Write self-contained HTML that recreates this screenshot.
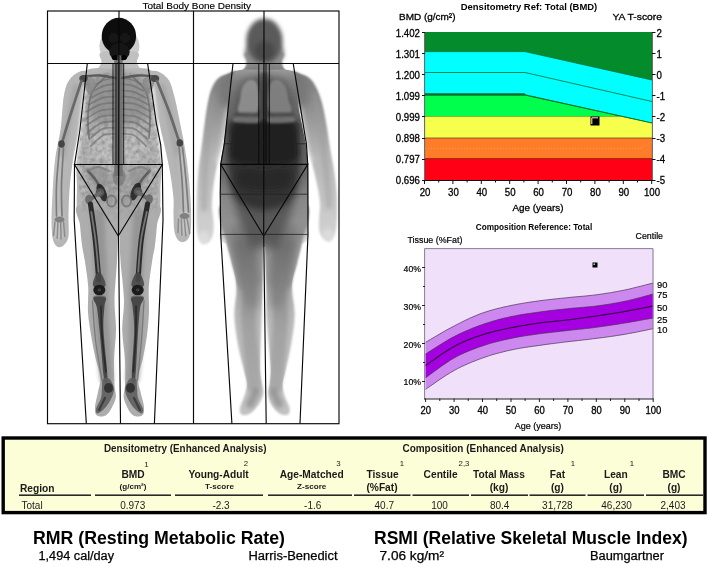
<!DOCTYPE html>
<html><head><meta charset="utf-8"><title>Total Body Bone Density</title>
<style>
html,body{margin:0;padding:0;background:#fff;}
body{width:709px;height:567px;position:relative;overflow:hidden;font-family:"Liberation Sans",sans-serif;color:#000;}
#main{position:absolute;left:0;top:0;}
.t{position:absolute;white-space:nowrap;line-height:1;}
svg text{font-family:"Liberation Sans",sans-serif;}
</style></head><body>
<svg id="main" width="709" height="567" viewBox="0 0 709 567">
<defs>
<filter id="b1" x="-20%" y="-20%" width="140%" height="140%"><feGaussianBlur stdDeviation="1"/></filter>
<filter id="b2" x="-20%" y="-20%" width="140%" height="140%"><feGaussianBlur stdDeviation="2"/></filter>
<filter id="b3" x="-20%" y="-20%" width="140%" height="140%"><feGaussianBlur stdDeviation="3.5"/></filter>
<filter id="b5" x="-30%" y="-30%" width="160%" height="160%"><feGaussianBlur stdDeviation="6"/></filter>
<filter id="b07" x="-20%" y="-20%" width="140%" height="140%"><feGaussianBlur stdDeviation="0.75"/></filter>
<filter id="b4" x="-30%" y="-30%" width="160%" height="160%"><feGaussianBlur stdDeviation="5"/></filter>
<filter id="noise" x="0" y="0" width="100%" height="100%"><feTurbulence type="fractalNoise" baseFrequency="0.22" numOctaves="2" seed="4" result="t"/><feColorMatrix type="matrix" values="0 0 0 0 0.25  0 0 0 0 0.25  0 0 0 0 0.25  2.2 0 0 0 -0.85"/><feGaussianBlur stdDeviation="0.5"/></filter>
<filter id="noiseW" x="0" y="0" width="100%" height="100%"><feTurbulence type="fractalNoise" baseFrequency="0.25" numOctaves="2" seed="9"/><feColorMatrix type="matrix" values="0 0 0 0 0.85  0 0 0 0 0.85  0 0 0 0 0.85  0 2.2 0 0 -0.9"/><feGaussianBlur stdDeviation="0.5"/></filter>
<filter id="b05" x="-20%" y="-20%" width="140%" height="140%"><feGaussianBlur stdDeviation="0.6"/></filter>
</defs>
<g id="scans">
<text x="196.800" y="8.500" font-size="9.5" text-anchor="middle" fill="#000" stroke="#000" stroke-width="0.15" textLength="108.500" lengthAdjust="spacingAndGlyphs">Total Body Bone Density</text>
<linearGradient id="lgR1" gradientUnits="userSpaceOnUse" x1="0" y1="205" x2="0" y2="415"><stop offset="0" stop-color="#8a8a8a"/><stop offset="0.2" stop-color="#a0a0a0"/><stop offset="0.4" stop-color="#b0b0b0"/><stop offset="0.6" stop-color="#bcbcbc"/><stop offset="1" stop-color="#c2c2c2"/></linearGradient>
<linearGradient id="lgR2" gradientUnits="userSpaceOnUse" x1="0" y1="205" x2="0" y2="415"><stop offset="0" stop-color="#585858"/><stop offset="0.2" stop-color="#787878"/><stop offset="0.4" stop-color="#909090"/><stop offset="0.6" stop-color="#a0a0a0"/><stop offset="0.85" stop-color="#a6a6a6"/><stop offset="1" stop-color="#9c9c9c"/></linearGradient>
<linearGradient id="lgA" gradientUnits="userSpaceOnUse" x1="0" y1="70" x2="0" y2="245"><stop offset="0" stop-color="#7e7e7e"/><stop offset="0.17" stop-color="#8a8a8a"/><stop offset="0.34" stop-color="#a2a2a2"/><stop offset="0.5" stop-color="#b8b8b8"/><stop offset="0.75" stop-color="#c6c6c6"/><stop offset="1" stop-color="#d4d4d4"/></linearGradient>
<clipPath id="clipL"><rect x="48" y="11" width="145" height="412.500"/></clipPath>
<clipPath id="clipR"><rect x="193.5" y="11" width="145.500" height="412.500"/></clipPath>
<g clip-path="url(#clipL)">
<g filter="url(#b07)">
<ellipse cx="119.4" cy="46" rx="20" ry="18.5" fill="#cbcbcb"/>
<path d="M102.0 52.0 C96.2 53.7 102.2 59.3 101.5 62.0 C100.8 64.7 99.9 66.3 98.0 68.0 C96.1 69.7 86.5 70.3 90.0 72.0 C93.5 73.7 109.3 78.0 119.0 78.0 C128.7 78.0 144.5 73.7 148.0 72.0 C151.5 70.3 141.8 69.7 140.0 68.0 C138.2 66.3 137.6 64.7 137.0 62.0 C136.4 59.3 142.3 53.7 136.5 52.0 C130.7 50.3 107.8 50.3 102.0 52.0Z" fill="#c0c0c0"/>
<path d="M82.0 71.0 C78.3 71.5 73.0 75.0 70.0 79.0 C67.0 83.0 65.6 86.5 64.0 95.0 C62.4 103.5 62.0 119.2 60.5 130.0 C59.0 140.8 56.3 149.2 55.0 160.0 C53.7 170.8 53.1 184.7 52.5 195.0 C51.9 205.3 51.4 214.5 51.5 222.0 C51.6 229.5 51.9 235.8 53.0 240.0 C54.1 244.2 56.2 246.2 58.0 247.0 C59.8 247.8 62.2 246.8 64.0 245.0 C65.8 243.2 67.8 241.0 68.5 236.0 C69.2 231.0 68.3 222.7 68.5 215.0 C68.7 207.3 68.8 199.2 69.5 190.0 C70.2 180.8 71.4 170.0 73.0 160.0 C74.6 150.0 77.2 140.0 79.0 130.0 C80.8 120.0 81.8 109.0 84.0 100.0 C86.2 91.0 92.3 80.8 92.0 76.0 C91.7 71.2 85.7 70.5 82.0 71.0Z" fill="#b6b6b6"/>
<path d="M156.0 71.0 C159.7 71.5 165.0 75.0 168.0 79.0 C171.0 83.0 171.9 87.3 174.0 95.0 C176.1 102.7 178.5 115.0 180.5 125.0 C182.5 135.0 184.5 145.0 186.0 155.0 C187.5 165.0 188.7 175.8 189.5 185.0 C190.3 194.2 190.8 202.2 191.0 210.0 C191.2 217.8 191.3 226.8 190.5 232.0 C189.7 237.2 187.9 239.5 186.0 241.0 C184.1 242.5 180.9 242.5 179.0 241.0 C177.1 239.5 175.4 236.3 174.5 232.0 C173.6 227.7 173.7 220.7 173.5 215.0 C173.3 209.3 174.1 205.2 173.5 198.0 C172.9 190.8 171.4 180.3 170.0 172.0 C168.6 163.7 166.8 156.3 165.0 148.0 C163.2 139.7 160.8 130.0 159.0 122.0 C157.2 114.0 156.2 107.7 154.0 100.0 C151.8 92.3 145.7 80.8 146.0 76.0 C146.3 71.2 152.3 70.5 156.0 71.0Z" fill="#b6b6b6"/>
<path d="M86.0 71.0 C79.7 76.2 82.1 90.2 81.0 100.0 C79.9 109.8 80.2 120.0 79.5 130.0 C78.8 140.0 76.9 150.8 76.5 160.0 C76.1 169.2 76.6 175.8 77.0 185.0 C77.4 194.2 75.2 208.8 79.0 215.0 C82.8 221.2 93.3 220.5 100.0 222.0 C106.7 223.5 112.7 224.0 119.0 224.0 C125.3 224.0 131.5 223.5 138.0 222.0 C144.5 220.5 154.2 221.2 158.0 215.0 C161.8 208.8 159.9 194.2 160.5 185.0 C161.1 175.8 161.8 169.2 161.5 160.0 C161.2 150.8 159.8 140.0 159.0 130.0 C158.2 120.0 158.2 109.8 157.0 100.0 C155.8 90.2 158.3 76.2 152.0 71.0 C145.7 65.8 130.0 69.0 119.0 69.0 C108.0 69.0 92.3 65.8 86.0 71.0Z" fill="#b6b6b6"/>
<path d="M78.5 205.0 C72.1 208.3 79.4 218.3 80.0 225.0 C80.6 231.7 81.2 238.8 82.0 245.0 C82.8 251.2 84.0 255.0 85.0 262.0 C86.0 269.0 87.7 278.7 88.2 287.0 C88.7 295.3 87.5 304.0 88.0 312.0 C88.5 320.0 89.8 327.3 91.0 335.0 C92.2 342.7 94.0 350.8 95.5 358.0 C97.0 365.2 99.9 372.3 100.3 378.0 C100.7 383.7 98.9 387.2 98.0 392.0 C97.1 396.8 95.2 403.1 95.0 407.0 C94.8 410.9 95.0 414.2 97.0 415.5 C99.0 416.8 103.9 417.2 107.0 414.5 C110.1 411.8 114.2 403.9 115.5 399.0 C116.8 394.1 114.8 391.5 114.5 385.0 C114.2 378.5 113.8 369.2 114.0 360.0 C114.2 350.8 115.9 340.0 116.0 330.0 C116.1 320.0 114.3 311.3 114.5 300.0 C114.7 288.7 116.4 272.3 117.0 262.0 C117.6 251.7 117.8 247.5 118.0 238.0 C118.2 228.5 124.9 210.5 118.3 205.0 C111.7 199.5 84.9 201.7 78.5 205.0Z" fill="#adadad"/>
<path d="M158.5 205.0 C164.7 208.3 157.6 218.3 157.0 225.0 C156.4 231.7 155.8 238.8 155.0 245.0 C154.2 251.2 153.0 255.0 152.0 262.0 C151.0 269.0 149.3 278.7 148.8 287.0 C148.3 295.3 149.3 304.0 149.0 312.0 C148.7 320.0 148.0 327.3 147.0 335.0 C146.0 342.7 144.5 350.8 143.0 358.0 C141.5 365.2 138.4 372.3 138.0 378.0 C137.6 383.7 139.5 387.2 140.5 392.0 C141.5 396.8 143.8 403.1 144.0 407.0 C144.2 410.9 144.0 414.2 142.0 415.5 C140.0 416.8 135.0 417.2 132.0 414.5 C129.0 411.8 125.2 403.9 124.0 399.0 C122.8 394.1 124.8 391.5 125.0 385.0 C125.2 378.5 125.5 369.2 125.0 360.0 C124.5 350.8 122.4 340.0 122.2 330.0 C122.0 320.0 124.3 311.3 124.0 300.0 C123.7 288.7 121.3 272.3 120.6 262.0 C119.9 251.7 119.9 247.5 119.7 238.0 C119.5 228.5 113.1 210.5 119.6 205.0 C126.1 199.5 152.3 201.7 158.5 205.0Z" fill="#adadad"/>
</g>
<g filter="url(#b2)">
<path d="M92.0 78.0 C86.8 83.8 89.2 98.8 88.0 110.0 C86.8 121.2 85.8 134.2 85.0 145.0 C84.2 155.8 83.0 165.0 83.0 175.0 C83.0 185.0 82.2 198.2 85.0 205.0 C87.8 211.8 94.3 213.8 100.0 216.0 C105.7 218.2 112.7 218.0 119.0 218.0 C125.3 218.0 132.3 218.2 138.0 216.0 C143.7 213.8 150.2 211.8 153.0 205.0 C155.8 198.2 155.0 185.0 155.0 175.0 C155.0 165.0 153.8 155.8 153.0 145.0 C152.2 134.2 151.2 121.2 150.0 110.0 C148.8 98.8 151.2 83.8 146.0 78.0 C140.8 72.2 128.0 75.0 119.0 75.0 C110.0 75.0 97.2 72.2 92.0 78.0Z" fill="#a9a9a9" opacity="0.9"/>
<path d="M98.0 215.0 C98.2 220.8 99.0 238.3 99.5 250.0 C100.0 261.7 100.6 273.3 101.0 285.0 C101.4 296.7 101.4 308.3 102.0 320.0 C102.6 331.7 103.8 345.3 104.5 355.0 C105.2 364.7 106.2 374.2 106.5 378.0" fill="none" stroke="#919191" stroke-width="13" stroke-linecap="round" stroke-linejoin="round" opacity="0.85"/>
<path d="M139.5 215.0 C139.2 220.8 138.7 238.3 138.0 250.0 C137.3 261.7 135.9 273.3 135.5 285.0 C135.1 296.7 135.7 308.3 135.5 320.0 C135.3 331.7 135.0 345.3 134.5 355.0 C134.0 364.7 132.8 374.2 132.5 378.0" fill="none" stroke="#919191" stroke-width="13" stroke-linecap="round" stroke-linejoin="round" opacity="0.85"/>
<path d="M76.0 86.0 C74.7 92.5 70.4 111.8 68.0 125.0 C65.6 138.2 62.9 150.8 61.5 165.0 C60.1 179.2 59.8 202.5 59.5 210.0" fill="none" stroke="#a0a0a0" stroke-width="5.5" stroke-linecap="round" stroke-linejoin="round" opacity="0.8"/>
<path d="M162.0 86.0 C163.5 92.5 168.2 111.8 171.0 125.0 C173.8 138.2 177.0 151.2 179.0 165.0 C181.0 178.8 182.3 200.8 183.0 208.0" fill="none" stroke="#a0a0a0" stroke-width="5.5" stroke-linecap="round" stroke-linejoin="round" opacity="0.8"/>
</g>
<g filter="url(#b1)">
<path d="M85.0 88.0 C84.5 92.0 83.0 103.7 82.0 112.0 C81.0 120.3 80.1 130.0 79.0 138.0 C77.9 146.0 76.1 156.3 75.5 160.0" fill="none" stroke="#fff" stroke-width="4" stroke-linecap="round" stroke-linejoin="round" opacity="0.6"/>
<path d="M152.5 88.0 C153.0 92.0 154.5 103.7 155.5 112.0 C156.5 120.3 157.4 130.0 158.5 138.0 C159.6 146.0 161.4 156.3 162.0 160.0" fill="none" stroke="#fff" stroke-width="4" stroke-linecap="round" stroke-linejoin="round" opacity="0.6"/>
</g>
<g filter="url(#b2)">
<path d="M60.0 160.0 C59.7 166.7 58.3 187.5 58.0 200.0 C57.7 212.5 58.0 229.2 58.0 235.0" fill="none" stroke="#fff" stroke-width="9" stroke-linecap="round" stroke-linejoin="round" opacity="0.22"/>
<path d="M181.0 158.0 C181.5 164.2 183.3 183.0 184.0 195.0 C184.7 207.0 184.8 224.2 185.0 230.0" fill="none" stroke="#fff" stroke-width="9" stroke-linecap="round" stroke-linejoin="round" opacity="0.22"/>
</g>
<g filter="url(#b3)">
<ellipse cx="119" cy="104" rx="29" ry="31" fill="#868686" opacity="0.6"/>
<ellipse cx="119" cy="190" rx="28" ry="15" fill="#8a8a8a" opacity="0.35"/>
<ellipse cx="119" cy="146" rx="30" ry="22" fill="#cacaca" opacity="0.5"/>
</g>
<clipPath id="clipTorsoL"><path d="M90.0 76.0 C84.2 80.5 85.5 91.0 84.0 100.0 C82.5 109.0 82.0 120.0 81.0 130.0 C80.0 140.0 78.3 150.8 78.0 160.0 C77.7 169.2 78.3 176.3 79.0 185.0 C79.7 193.7 78.5 206.2 82.0 212.0 C85.5 217.8 93.8 218.3 100.0 220.0 C106.2 221.7 112.7 222.0 119.0 222.0 C125.3 222.0 131.8 221.7 138.0 220.0 C144.2 218.3 152.5 217.8 156.0 212.0 C159.5 206.2 158.3 193.7 159.0 185.0 C159.7 176.3 160.3 169.2 160.0 160.0 C159.7 150.8 158.0 140.0 157.0 130.0 C156.0 120.0 155.5 109.0 154.0 100.0 C152.5 91.0 153.8 80.5 148.0 76.0 C142.2 71.5 128.7 73.0 119.0 73.0 C109.3 73.0 95.8 71.5 90.0 76.0Z"/></clipPath>
<linearGradient id="lgNz" gradientUnits="userSpaceOnUse" x1="0" y1="70" x2="0" y2="225"><stop offset="0" stop-color="#fff"/><stop offset="0.78" stop-color="#fff"/><stop offset="1" stop-color="#000"/></linearGradient><mask id="mNz" maskUnits="userSpaceOnUse" x="70" y="70" width="100" height="160"><rect x="70" y="70" width="100" height="160" fill="url(#lgNz)"/></mask>
<g clip-path="url(#clipTorsoL)"><g mask="url(#mNz)"><rect x="70" y="70" width="100" height="160" filter="url(#noise)" opacity="0.8"/><rect x="70" y="115" width="100" height="110" filter="url(#noiseW)" opacity="0.28"/></g></g>
<g filter="url(#b05)">
<ellipse cx="118.9" cy="36" rx="17.2" ry="18.2" fill="#101010"/>
<ellipse cx="119.5" cy="52" rx="10.2" ry="8.8" fill="#181818"/>
<ellipse cx="113.5" cy="38" rx="4.5" ry="5" fill="#303030" opacity="0.25"/>
<ellipse cx="125" cy="38" rx="4.5" ry="5" fill="#303030" opacity="0.25"/>
<ellipse cx="114.8" cy="57.5" rx="3" ry="2.6" fill="#000"/>
<ellipse cx="123.8" cy="57.5" rx="3" ry="2.6" fill="#000"/>
<ellipse cx="119.5" cy="58" rx="2" ry="3" fill="#888" opacity="0.7"/>
<path d="M118.5 60.0 C118.5 68.3 118.5 90.7 118.5 110.0 C118.5 129.3 118.5 165.0 118.5 176.0" fill="none" stroke="#747474" stroke-width="8.5" stroke-linecap="butt" stroke-linejoin="round"/>
<path d="M118.5 62.0 C118.5 81.0 118.5 157.0 118.5 176.0" fill="none" stroke="#444" stroke-width="3" stroke-linecap="butt" stroke-linejoin="round" opacity="0.4"/>
<path d="M115.0 78.0 C113.5 78.2 109.1 78.5 105.9 79.5 C102.7 80.5 97.7 83.2 96.0 84.0" fill="none" stroke="#6a6a6a" stroke-width="1.8" stroke-linecap="round" stroke-linejoin="round" opacity="0.6"/>
<path d="M122.0 78.0 C123.5 78.2 127.9 78.5 131.1 79.5 C134.3 80.5 139.3 83.2 141.0 84.0" fill="none" stroke="#6a6a6a" stroke-width="1.8" stroke-linecap="round" stroke-linejoin="round" opacity="0.6"/>
<path d="M115.0 84.2 C113.3 84.5 108.1 84.6 104.6 85.7 C101.0 86.8 95.4 90.0 93.6 90.9" fill="none" stroke="#6a6a6a" stroke-width="1.8" stroke-linecap="round" stroke-linejoin="round" opacity="0.6"/>
<path d="M122.0 84.2 C123.7 84.5 128.9 84.6 132.4 85.7 C136.0 86.8 141.6 90.0 143.4 90.9" fill="none" stroke="#6a6a6a" stroke-width="1.8" stroke-linecap="round" stroke-linejoin="round" opacity="0.6"/>
<path d="M115.0 90.4 C113.0 90.7 107.2 90.7 103.3 91.9 C99.3 93.1 93.2 96.8 91.2 97.8" fill="none" stroke="#6a6a6a" stroke-width="1.8" stroke-linecap="round" stroke-linejoin="round" opacity="0.6"/>
<path d="M122.0 90.4 C124.0 90.7 129.8 90.7 133.7 91.9 C137.7 93.1 143.8 96.8 145.8 97.8" fill="none" stroke="#6a6a6a" stroke-width="1.8" stroke-linecap="round" stroke-linejoin="round" opacity="0.6"/>
<path d="M115.0 96.6 C112.8 96.8 106.3 96.8 101.9 98.1 C97.6 99.4 91.0 103.6 88.8 104.7" fill="none" stroke="#6a6a6a" stroke-width="1.8" stroke-linecap="round" stroke-linejoin="round" opacity="0.6"/>
<path d="M122.0 96.6 C124.2 96.8 130.7 96.8 135.1 98.1 C139.4 99.4 146.0 103.6 148.2 104.7" fill="none" stroke="#6a6a6a" stroke-width="1.8" stroke-linecap="round" stroke-linejoin="round" opacity="0.6"/>
<path d="M115.0 102.8 C112.6 103.0 105.4 102.8 100.6 104.3 C95.9 105.8 88.8 110.4 86.4 111.6" fill="none" stroke="#6a6a6a" stroke-width="1.8" stroke-linecap="round" stroke-linejoin="round" opacity="0.6"/>
<path d="M122.0 102.8 C124.4 103.0 131.6 102.8 136.4 104.3 C141.1 105.8 148.2 110.4 150.6 111.6" fill="none" stroke="#6a6a6a" stroke-width="1.8" stroke-linecap="round" stroke-linejoin="round" opacity="0.6"/>
<path d="M115.0 109.0 C112.6 109.2 105.4 108.9 100.6 110.5 C95.9 112.1 88.8 117.2 86.4 118.5" fill="none" stroke="#6a6a6a" stroke-width="1.8" stroke-linecap="round" stroke-linejoin="round" opacity="0.6"/>
<path d="M122.0 109.0 C124.4 109.2 131.6 108.9 136.4 110.5 C141.1 112.1 148.2 117.2 150.6 118.5" fill="none" stroke="#6a6a6a" stroke-width="1.8" stroke-linecap="round" stroke-linejoin="round" opacity="0.6"/>
<path d="M115.0 115.2 C112.6 115.5 105.4 115.0 100.6 116.7 C95.9 118.4 88.8 124.0 86.4 125.4" fill="none" stroke="#6a6a6a" stroke-width="1.8" stroke-linecap="round" stroke-linejoin="round" opacity="0.6"/>
<path d="M122.0 115.2 C124.4 115.5 131.6 115.0 136.4 116.7 C141.1 118.4 148.2 124.0 150.6 125.4" fill="none" stroke="#6a6a6a" stroke-width="1.8" stroke-linecap="round" stroke-linejoin="round" opacity="0.6"/>
<path d="M115.0 121.4 C112.7 121.7 106.0 121.1 101.4 122.9 C96.9 124.7 90.2 130.7 87.9 132.3" fill="none" stroke="#6a6a6a" stroke-width="1.8" stroke-linecap="round" stroke-linejoin="round" opacity="0.6"/>
<path d="M122.0 121.4 C124.3 121.7 131.0 121.1 135.6 122.9 C140.1 124.7 146.8 130.7 149.1 132.3" fill="none" stroke="#6a6a6a" stroke-width="1.8" stroke-linecap="round" stroke-linejoin="round" opacity="0.6"/>
<path d="M115.0 127.6 C112.9 127.8 106.5 127.2 102.3 129.1 C98.0 131.0 91.5 137.5 89.4 139.2" fill="none" stroke="#6a6a6a" stroke-width="1.8" stroke-linecap="round" stroke-linejoin="round" opacity="0.6"/>
<path d="M122.0 127.6 C124.1 127.8 130.5 127.2 134.7 129.1 C139.0 131.0 145.5 137.5 147.6 139.2" fill="none" stroke="#6a6a6a" stroke-width="1.8" stroke-linecap="round" stroke-linejoin="round" opacity="0.6"/>
<path d="M115.0 133.8 C113.0 134.1 107.1 133.2 103.1 135.3 C99.1 137.4 92.9 144.3 90.9 146.1" fill="none" stroke="#6a6a6a" stroke-width="1.8" stroke-linecap="round" stroke-linejoin="round" opacity="0.6"/>
<path d="M122.0 133.8 C124.0 134.1 129.9 133.2 133.9 135.3 C137.9 137.4 144.1 144.3 146.1 146.1" fill="none" stroke="#6a6a6a" stroke-width="1.8" stroke-linecap="round" stroke-linejoin="round" opacity="0.6"/>
<path d="M106.0 76.0 C103.7 78.7 95.0 85.5 92.0 92.0 C89.0 98.5 88.5 107.3 88.0 115.0 C87.5 122.7 88.8 134.2 89.0 138.0" fill="none" stroke="#6a6a6a" stroke-width="1.8" stroke-linecap="round" stroke-linejoin="round" opacity="0.75"/>
<path d="M132.0 76.0 C134.3 78.7 143.0 85.5 146.0 92.0 C149.0 98.5 149.5 107.3 150.0 115.0 C150.5 122.7 149.2 134.2 149.0 138.0" fill="none" stroke="#6a6a6a" stroke-width="1.8" stroke-linecap="round" stroke-linejoin="round" opacity="0.75"/>
<path d="M116.0 78.0 C113.3 77.6 105.5 75.8 100.0 75.5 C94.5 75.2 85.8 76.3 83.0 76.5" fill="none" stroke="#5a5a5a" stroke-width="2.3" stroke-linecap="round" stroke-linejoin="round"/>
<path d="M122.0 78.0 C124.7 77.6 132.5 75.8 138.0 75.5 C143.5 75.2 152.2 76.3 155.0 76.5" fill="none" stroke="#5a5a5a" stroke-width="2.3" stroke-linecap="round" stroke-linejoin="round"/>
<path d="M84.0 77.0 C85.5 75.3 93.7 77.0 95.0 80.0 C96.3 83.0 93.5 93.3 92.0 95.0 C90.5 96.7 87.3 93.0 86.0 90.0 C84.7 87.0 82.5 78.7 84.0 77.0Z" fill="#808080" opacity="0.6"/>
<path d="M154.0 77.0 C152.5 75.3 144.3 77.0 143.0 80.0 C141.7 83.0 144.5 93.3 146.0 95.0 C147.5 96.7 150.7 93.0 152.0 90.0 C153.3 87.0 155.5 78.7 154.0 77.0Z" fill="#808080" opacity="0.6"/>
<ellipse cx="83.5" cy="78.5" rx="4.2" ry="3.6" fill="#4a4a4a"/>
<ellipse cx="155" cy="78.5" rx="4.2" ry="3.6" fill="#4a4a4a"/>
<path d="M81.5 81.0 C79.9 85.8 75.2 100.0 72.0 110.0 C68.8 120.0 64.1 135.8 62.5 141.0" fill="none" stroke="#686868" stroke-width="2.7" stroke-linecap="round" stroke-linejoin="round"/>
<path d="M157.0 81.0 C158.9 85.8 164.8 100.0 168.5 110.0 C172.2 120.0 177.2 135.8 179.0 141.0" fill="none" stroke="#686868" stroke-width="2.7" stroke-linecap="round" stroke-linejoin="round"/>
<ellipse cx="61.5" cy="144" rx="3.3" ry="3.8" fill="#444"/>
<ellipse cx="179.8" cy="143" rx="3.3" ry="3.8" fill="#444"/>
<path d="M59.5 148.0 C59.0 154.2 57.0 173.7 56.5 185.0 C56.0 196.3 56.5 210.8 56.5 216.0" fill="none" stroke="#7c7c7c" stroke-width="1.7" stroke-linecap="round" stroke-linejoin="round"/>
<path d="M63.5 148.0 C63.2 154.2 61.8 173.7 61.5 185.0 C61.2 196.3 61.9 210.8 62.0 216.0" fill="none" stroke="#7c7c7c" stroke-width="1.7" stroke-linecap="round" stroke-linejoin="round"/>
<path d="M179.0 147.0 C179.5 152.5 181.2 169.2 182.0 180.0 C182.8 190.8 183.2 206.7 183.5 212.0" fill="none" stroke="#7c7c7c" stroke-width="1.7" stroke-linecap="round" stroke-linejoin="round"/>
<path d="M182.5 147.0 C183.1 152.5 185.0 169.2 186.0 180.0 C187.0 190.8 188.1 206.7 188.5 212.0" fill="none" stroke="#7c7c7c" stroke-width="1.7" stroke-linecap="round" stroke-linejoin="round"/>
<path d="M55.0 222.0 C54.8 224.2 53.8 233.2 53.5 235.5" fill="none" stroke="#8c8c8c" stroke-width="1.5" stroke-linecap="round" stroke-linejoin="round"/>
<path d="M178.5 219.0 C178.4 221.2 178.1 230.2 178.0 232.5" fill="none" stroke="#8c8c8c" stroke-width="1.5" stroke-linecap="round" stroke-linejoin="round"/>
<path d="M57.9 222.0 C57.8 224.7 57.4 235.5 57.2 238.2" fill="none" stroke="#8c8c8c" stroke-width="1.5" stroke-linecap="round" stroke-linejoin="round"/>
<path d="M181.3 219.0 C181.4 221.7 181.8 232.5 181.9 235.2" fill="none" stroke="#8c8c8c" stroke-width="1.5" stroke-linecap="round" stroke-linejoin="round"/>
<path d="M60.7 222.0 C60.8 224.8 61.0 236.2 61.0 239.1" fill="none" stroke="#8c8c8c" stroke-width="1.5" stroke-linecap="round" stroke-linejoin="round"/>
<path d="M184.2 219.0 C184.5 221.8 185.5 233.2 185.8 236.1" fill="none" stroke="#8c8c8c" stroke-width="1.5" stroke-linecap="round" stroke-linejoin="round"/>
<path d="M63.5 222.0 C63.8 224.4 64.5 234.0 64.8 236.4" fill="none" stroke="#8c8c8c" stroke-width="1.5" stroke-linecap="round" stroke-linejoin="round"/>
<path d="M187.1 219.0 C187.5 221.4 189.3 231.0 189.7 233.4" fill="none" stroke="#8c8c8c" stroke-width="1.5" stroke-linecap="round" stroke-linejoin="round"/>
<ellipse cx="59.5" cy="219.5" rx="5" ry="3" fill="#808080"/>
<ellipse cx="184.5" cy="216" rx="5" ry="3" fill="#808080"/>
<path d="M86.0 169.0 C87.0 166.5 94.3 165.7 98.0 166.0 C101.7 166.3 106.7 168.3 108.0 171.0 C109.3 173.7 107.5 179.3 106.0 182.0 C104.5 184.7 101.3 187.2 99.0 187.0 C96.7 186.8 94.2 184.0 92.0 181.0 C89.8 178.0 85.0 171.5 86.0 169.0Z" fill="#8c8c8c" opacity="0.55"/>
<path d="M151.5 169.0 C150.5 166.5 143.2 165.7 139.5 166.0 C135.8 166.3 130.8 168.3 129.5 171.0 C128.2 173.7 130.0 179.3 131.5 182.0 C133.0 184.7 136.2 187.2 138.5 187.0 C140.8 186.8 143.3 184.0 145.5 181.0 C147.7 178.0 152.5 171.5 151.5 169.0Z" fill="#8c8c8c" opacity="0.55"/>
<path d="M88.0 171.0 C89.2 172.3 93.0 176.3 95.0 179.0 C97.0 181.7 99.2 185.7 100.0 187.0" fill="none" stroke="#5a5a5a" stroke-width="2.6" stroke-linecap="round" stroke-linejoin="round" opacity="0.9"/>
<path d="M149.5 171.0 C148.3 172.3 144.5 176.3 142.5 179.0 C140.5 181.7 138.3 185.7 137.5 187.0" fill="none" stroke="#5a5a5a" stroke-width="2.6" stroke-linecap="round" stroke-linejoin="round" opacity="0.9"/>
<path d="M98.0 184.0 C99.1 183.5 101.6 184.5 103.0 186.0 C104.4 187.5 105.8 190.7 106.5 193.0 C107.2 195.3 107.6 198.7 107.0 200.0 C106.4 201.3 104.3 201.8 103.0 201.0 C101.7 200.2 100.1 197.0 99.0 195.0 C97.9 193.0 96.7 190.8 96.5 189.0 C96.3 187.2 96.9 184.5 98.0 184.0Z" fill="#242424" opacity="0.9"/>
<path d="M139.5 183.0 C138.4 182.5 135.9 183.5 134.5 185.0 C133.1 186.5 131.7 189.7 131.0 192.0 C130.3 194.3 129.9 197.7 130.5 199.0 C131.1 200.3 133.2 200.8 134.5 200.0 C135.8 199.2 137.4 196.0 138.5 194.0 C139.6 192.0 140.8 189.8 141.0 188.0 C141.2 186.2 140.6 183.5 139.5 183.0Z" fill="#242424" opacity="0.9"/>
<path d="M88.0 171.0 C89.7 170.3 94.5 167.0 98.0 167.0 C101.5 167.0 107.2 170.3 109.0 171.0" fill="none" stroke="#7a7a7a" stroke-width="2.2" stroke-linecap="round" stroke-linejoin="round" opacity="0.6"/>
<path d="M150.0 171.0 C148.3 170.3 143.5 167.0 140.0 167.0 C136.5 167.0 130.8 170.3 129.0 171.0" fill="none" stroke="#7a7a7a" stroke-width="2.2" stroke-linecap="round" stroke-linejoin="round" opacity="0.6"/>
<ellipse cx="119" cy="177" rx="6.5" ry="9" fill="#707070" opacity="0.6"/>
<ellipse cx="111.5" cy="201" rx="4.500" ry="5.500" fill="none" stroke="#707070" stroke-width="2" opacity="0.8"/>
<ellipse cx="126.5" cy="201" rx="4.500" ry="5.500" fill="none" stroke="#707070" stroke-width="2" opacity="0.8"/>
<ellipse cx="100" cy="192.5" rx="4.2" ry="4.2" fill="#555"/>
<ellipse cx="138" cy="191.5" rx="4.2" ry="4.2" fill="#555"/>
<path d="M89.5 200.0 C90.4 199.3 93.2 197.2 95.0 196.0 C96.8 194.8 99.2 193.5 100.0 193.0" fill="none" stroke="#6a6a6a" stroke-width="3.8" stroke-linecap="round" stroke-linejoin="round"/>
<path d="M148.5 199.5 C147.6 198.8 144.8 196.8 143.0 195.5 C141.2 194.2 138.8 192.6 138.0 192.0" fill="none" stroke="#6a6a6a" stroke-width="3.8" stroke-linecap="round" stroke-linejoin="round"/>
<ellipse cx="88.8" cy="199.5" rx="3.6" ry="4.8" fill="#6c6c6c"/>
<ellipse cx="149.3" cy="199" rx="3.6" ry="4.8" fill="#6c6c6c"/>
<path d="M90.5 204.0 C91.3 210.0 93.9 227.3 95.3 240.0 C96.7 252.7 98.2 273.3 98.8 280.0" fill="none" stroke="#2c2c2c" stroke-width="5.2" stroke-linecap="round" stroke-linejoin="round"/>
<path d="M147.6 204.0 C146.5 210.0 142.8 227.3 141.2 240.0 C139.6 252.7 138.5 273.3 138.0 280.0" fill="none" stroke="#2c2c2c" stroke-width="5.2" stroke-linecap="round" stroke-linejoin="round"/>
<path d="M91.3 212.0 C92.0 216.7 94.3 230.0 95.5 240.0 C96.7 250.0 98.1 266.7 98.6 272.0" fill="none" stroke="#767676" stroke-width="1.8" stroke-linecap="round" stroke-linejoin="round"/>
<path d="M146.8 212.0 C145.8 216.7 142.4 230.0 141.0 240.0 C139.6 250.0 138.7 266.7 138.2 272.0" fill="none" stroke="#767676" stroke-width="1.8" stroke-linecap="round" stroke-linejoin="round"/>
<path d="M96.3 274.0 C97.7 272.0 100.0 272.0 101.5 274.0 C103.0 276.0 106.7 284.0 105.3 286.0 C103.9 288.0 94.8 288.0 93.3 286.0 C91.8 284.0 94.9 276.0 96.3 274.0Z" fill="#484848" opacity="0.9"/>
<path d="M140.5 274.0 C139.1 272.0 136.8 272.0 135.3 274.0 C133.8 276.0 130.3 284.0 131.7 286.0 C133.1 288.0 142.2 288.0 143.7 286.0 C145.2 284.0 141.9 276.0 140.5 274.0Z" fill="#484848" opacity="0.9"/>
<ellipse cx="99.3" cy="290" rx="6" ry="5.2" fill="#1a1a1a"/>
<ellipse cx="137.7" cy="290" rx="6" ry="5.2" fill="#1a1a1a"/>
<ellipse cx="99.3" cy="290" rx="1.8" ry="1.4" fill="#404040"/>
<ellipse cx="137.7" cy="290" rx="1.8" ry="1.4" fill="#404040"/>
<ellipse cx="99.5" cy="297.3" rx="6.6" ry="2" fill="#6a6a6a"/>
<ellipse cx="137.5" cy="297.3" rx="6.6" ry="2" fill="#6a6a6a"/>
<path d="M93.5 298.0 C94.9 296.3 103.7 296.7 105.5 298.0 C107.3 299.3 104.8 300.7 104.5 306.0 C104.2 311.3 103.0 318.2 103.5 330.0 C104.0 341.8 107.4 369.0 107.5 377.0 C107.6 385.0 105.2 385.0 104.0 378.0 C102.8 371.0 101.2 346.7 100.0 335.0 C98.8 323.3 98.1 314.2 97.0 308.0 C95.9 301.8 92.1 299.7 93.5 298.0Z" fill="#474747"/>
<path d="M143.5 298.0 C142.1 296.3 133.3 296.7 131.5 298.0 C129.7 299.3 132.1 300.7 132.5 306.0 C132.9 311.3 134.3 318.2 134.2 330.0 C134.1 341.8 131.6 369.0 131.8 377.0 C132.0 385.0 134.3 385.0 135.3 378.0 C136.3 371.0 137.0 346.7 137.8 335.0 C138.6 323.3 139.1 314.2 140.0 308.0 C140.9 301.8 144.9 299.7 143.5 298.0Z" fill="#474747"/>
<path d="M101.0 306.0 C101.2 310.8 101.2 324.0 102.0 335.0 C102.8 346.0 105.3 365.8 106.0 372.0" fill="none" stroke="#2a2a2a" stroke-width="1.6" stroke-linecap="round" stroke-linejoin="round"/>
<path d="M136.0 306.0 C136.0 310.8 136.2 324.0 135.8 335.0 C135.4 346.0 133.7 365.8 133.3 372.0" fill="none" stroke="#2a2a2a" stroke-width="1.6" stroke-linecap="round" stroke-linejoin="round"/>
<path d="M92.5 301.0 C93.0 307.5 93.9 326.8 95.5 340.0 C97.1 353.2 100.9 373.3 102.0 380.0" fill="none" stroke="#7a7a7a" stroke-width="1.3" stroke-linecap="round" stroke-linejoin="round"/>
<path d="M144.0 301.0 C143.6 307.5 142.6 326.8 141.5 340.0 C140.4 353.2 138.2 373.3 137.5 380.0" fill="none" stroke="#7a7a7a" stroke-width="1.3" stroke-linecap="round" stroke-linejoin="round"/>
<path d="M103.0 379.0 C104.2 377.5 107.7 377.3 109.5 379.0 C111.3 380.7 113.8 385.5 114.0 389.0 C114.2 392.5 112.2 396.7 110.5 400.0 C108.8 403.3 106.2 406.8 104.0 409.0 C101.8 411.2 98.8 413.5 97.5 413.5 C96.2 413.5 95.4 411.6 96.0 409.0 C96.6 406.4 100.0 401.5 101.0 398.0 C102.0 394.5 101.7 391.2 102.0 388.0 C102.3 384.8 101.8 380.5 103.0 379.0Z" fill="#5e5e5e" opacity="0.9"/>
<path d="M136.0 379.0 C134.8 377.5 131.3 377.3 129.5 379.0 C127.7 380.7 125.2 385.5 125.0 389.0 C124.8 392.5 126.8 396.7 128.5 400.0 C130.2 403.3 132.8 406.8 135.0 409.0 C137.2 411.2 140.2 413.5 141.5 413.5 C142.8 413.5 143.6 411.6 143.0 409.0 C142.4 406.4 139.0 401.5 138.0 398.0 C137.0 394.5 137.3 391.2 137.0 388.0 C136.7 384.8 137.2 380.5 136.0 379.0Z" fill="#5e5e5e" opacity="0.9"/>
<ellipse cx="108.5" cy="388" rx="4.5" ry="5" fill="#2c2c2c" opacity="0.85"/>
<ellipse cx="130.5" cy="388" rx="4.5" ry="5" fill="#2c2c2c" opacity="0.85"/>
<path d="M105.0 398.0 C104.0 400.0 100.0 408.0 99.0 410.0" fill="none" stroke="#333" stroke-width="2.2" stroke-linecap="round" stroke-linejoin="round" opacity="0.8"/>
<path d="M134.0 398.0 C135.0 400.0 139.0 408.0 140.0 410.0" fill="none" stroke="#333" stroke-width="2.2" stroke-linecap="round" stroke-linejoin="round" opacity="0.8"/>
</g>
</g>
<linearGradient id="lgT" gradientUnits="userSpaceOnUse" x1="0" y1="70" x2="0" y2="246"><stop offset="0" stop-color="#9a9a9a"/><stop offset="0.06" stop-color="#828282"/><stop offset="0.17" stop-color="#707070"/><stop offset="0.27" stop-color="#686868"/><stop offset="0.31" stop-color="#565656"/><stop offset="0.54" stop-color="#666666"/><stop offset="0.74" stop-color="#8a8a8a"/><stop offset="0.86" stop-color="#909090"/><stop offset="1" stop-color="#8c8c8c" stop-opacity="0"/></linearGradient>
<g clip-path="url(#clipR)">
<clipPath id="clipBodyR">
<path d="M238.0 72.0 C236.7 69.4 229.4 73.3 226.0 74.5 C222.6 75.7 219.9 76.6 217.5 79.0 C215.1 81.4 213.2 84.7 211.5 89.0 C209.8 93.3 208.7 99.0 207.5 105.0 C206.3 111.0 205.5 117.8 204.5 125.0 C203.5 132.2 202.5 140.5 201.5 148.0 C200.5 155.5 199.2 162.2 198.5 170.0 C197.8 177.8 197.3 186.3 197.0 195.0 C196.7 203.7 196.3 215.0 196.5 222.0 C196.7 229.0 197.0 233.3 198.0 237.0 C199.0 240.7 200.7 243.2 202.5 244.0 C204.3 244.8 207.2 243.7 209.0 242.0 C210.8 240.3 212.2 237.3 213.0 234.0 C213.8 230.7 213.7 226.3 213.5 222.0 C213.3 217.7 212.2 212.5 212.0 208.0 C211.8 203.5 212.2 199.3 212.5 195.0 C212.8 190.7 213.2 187.0 214.0 182.0 C214.8 177.0 215.8 170.7 217.0 165.0 C218.2 159.3 220.1 153.8 221.5 148.0 C222.9 142.2 224.2 136.3 225.5 130.0 C226.8 123.7 227.6 116.7 229.0 110.0 C230.4 103.3 232.5 96.3 234.0 90.0 C235.5 83.7 239.3 74.6 238.0 72.0Z"/>
<path d="M290.0 72.0 C291.3 69.4 298.6 73.3 302.0 74.5 C305.4 75.7 308.0 76.6 310.5 79.0 C313.0 81.4 315.0 84.7 317.0 89.0 C319.0 93.3 320.9 99.0 322.5 105.0 C324.1 111.0 325.2 117.8 326.5 125.0 C327.8 132.2 328.8 140.5 330.0 148.0 C331.2 155.5 332.9 162.7 334.0 170.0 C335.1 177.3 336.0 184.5 336.5 192.0 C337.0 199.5 337.2 208.3 337.0 215.0 C336.8 221.7 336.5 227.7 335.5 232.0 C334.5 236.3 332.8 239.7 331.0 241.0 C329.2 242.3 326.4 241.5 324.5 240.0 C322.6 238.5 320.4 235.3 319.5 232.0 C318.6 228.7 318.9 224.3 319.0 220.0 C319.1 215.7 320.0 210.2 320.0 206.0 C320.0 201.8 319.6 199.0 319.0 195.0 C318.4 191.0 317.6 187.0 316.5 182.0 C315.4 177.0 314.0 170.7 312.5 165.0 C311.0 159.3 308.9 153.8 307.5 148.0 C306.1 142.2 305.2 136.3 304.0 130.0 C302.8 123.7 301.7 116.7 300.0 110.0 C298.3 103.3 295.7 96.3 294.0 90.0 C292.3 83.7 288.7 74.6 290.0 72.0Z"/>
<path d="M221.0 205.0 C214.8 210.8 224.3 230.5 226.0 240.0 C227.7 249.5 229.6 254.3 231.3 262.0 C233.1 269.7 236.0 277.2 236.5 286.0 C237.0 294.8 234.1 305.2 234.3 315.0 C234.6 324.8 236.4 335.8 238.0 345.0 C239.6 354.2 242.5 363.3 244.0 370.0 C245.5 376.7 247.0 380.5 247.0 385.0 C247.0 389.5 245.2 393.2 244.0 397.0 C242.8 400.8 240.4 405.1 240.0 408.0 C239.6 410.9 239.8 413.6 241.5 414.5 C243.2 415.4 247.1 415.2 250.0 413.5 C252.9 411.8 256.8 407.4 259.0 404.0 C261.2 400.6 262.9 396.7 263.3 393.0 C263.7 389.3 262.1 386.7 261.5 382.0 C260.9 377.3 260.0 375.3 260.0 365.0 C260.0 354.7 261.1 332.5 261.5 320.0 C261.9 307.5 262.0 303.3 262.3 290.0 C262.6 276.7 263.1 254.2 263.2 240.0 C263.3 225.8 270.2 210.8 263.2 205.0 C256.2 199.2 227.2 199.2 221.0 205.0Z"/>
<path d="M307.0 205.0 C313.3 210.8 304.1 230.5 302.5 240.0 C300.9 249.5 299.2 254.3 297.5 262.0 C295.8 269.7 292.5 277.2 292.0 286.0 C291.5 294.8 294.9 305.2 294.7 315.0 C294.5 324.8 292.5 335.8 291.0 345.0 C289.5 354.2 287.0 363.3 285.6 370.0 C284.2 376.7 282.6 380.5 282.5 385.0 C282.4 389.5 283.8 393.2 285.0 397.0 C286.2 400.8 289.0 405.1 289.5 408.0 C290.0 410.9 289.7 413.6 288.0 414.5 C286.3 415.4 282.3 415.2 279.5 413.5 C276.7 411.8 272.9 407.4 271.0 404.0 C269.1 400.6 268.5 396.7 268.3 393.0 C268.1 389.3 269.6 386.7 270.0 382.0 C270.4 377.3 271.1 375.3 270.6 365.0 C270.1 354.7 267.5 332.5 266.8 320.0 C266.1 307.5 266.8 303.3 266.5 290.0 C266.2 276.7 265.1 254.2 264.8 240.0 C264.5 225.8 257.8 210.8 264.8 205.0 C271.8 199.2 300.7 199.2 307.0 205.0Z"/>
<path d="M247.0 52.0 C241.2 53.5 246.8 58.5 246.5 61.0 C246.2 63.5 246.4 65.3 245.5 67.0 C244.6 68.7 243.1 69.9 241.0 71.0 C238.9 72.1 232.8 72.0 233.0 73.5 C233.2 75.0 236.8 78.6 242.0 80.0 C247.2 81.4 256.7 82.0 264.0 82.0 C271.3 82.0 280.8 81.4 286.0 80.0 C291.2 78.6 294.8 75.0 295.0 73.5 C295.2 72.0 289.0 72.1 287.0 71.0 C285.0 69.9 283.8 68.7 283.0 67.0 C282.2 65.3 282.2 63.5 282.0 61.0 C281.8 58.5 287.3 53.5 281.5 52.0 C275.7 50.5 252.8 50.5 247.0 52.0Z"/>
<path d="M236.0 71.5 C230.6 74.8 232.8 83.6 231.5 90.0 C230.2 96.4 229.0 103.3 228.0 110.0 C227.0 116.7 226.2 124.0 225.5 130.0 C224.8 136.0 224.3 140.2 223.5 146.0 C222.7 151.8 221.1 156.8 220.5 165.0 C219.9 173.2 220.0 185.0 220.0 195.0 C220.0 205.0 219.8 217.0 220.5 225.0 C221.2 233.0 216.8 239.3 224.0 243.0 C231.2 246.7 250.7 247.0 264.0 247.0 C277.3 247.0 296.7 246.7 304.0 243.0 C311.3 239.3 307.3 233.0 308.0 225.0 C308.7 217.0 308.3 205.0 308.3 195.0 C308.3 185.0 308.4 173.2 308.0 165.0 C307.6 156.8 306.8 151.8 306.0 146.0 C305.2 140.2 304.2 136.0 303.0 130.0 C301.8 124.0 300.2 116.7 299.0 110.0 C297.8 103.3 297.2 96.4 296.0 90.0 C294.8 83.6 297.3 74.8 292.0 71.5 C286.7 68.2 273.3 70.0 264.0 70.0 C254.7 70.0 241.4 68.2 236.0 71.5Z"/>
<ellipse cx="264.4" cy="42" rx="19" ry="24.5"/>
</clipPath>
<clipPath id="clipTorsoR"><path d="M236.0 71.5 C230.6 74.8 232.8 83.6 231.5 90.0 C230.2 96.4 229.0 103.3 228.0 110.0 C227.0 116.7 226.2 124.0 225.5 130.0 C224.8 136.0 224.3 140.2 223.5 146.0 C222.7 151.8 221.1 156.8 220.5 165.0 C219.9 173.2 220.0 185.0 220.0 195.0 C220.0 205.0 219.8 217.0 220.5 225.0 C221.2 233.0 216.8 239.3 224.0 243.0 C231.2 246.7 250.7 247.0 264.0 247.0 C277.3 247.0 296.7 246.7 304.0 243.0 C311.3 239.3 307.3 233.0 308.0 225.0 C308.7 217.0 308.3 205.0 308.3 195.0 C308.3 185.0 308.4 173.2 308.0 165.0 C307.6 156.8 306.8 151.8 306.0 146.0 C305.2 140.2 304.2 136.0 303.0 130.0 C301.8 124.0 300.2 116.7 299.0 110.0 C297.8 103.3 297.2 96.4 296.0 90.0 C294.8 83.6 297.3 74.8 292.0 71.5 C286.7 68.2 273.3 70.0 264.0 70.0 C254.7 70.0 241.4 68.2 236.0 71.5Z"/><path d="M221.0 205.0 C214.8 210.8 224.3 230.5 226.0 240.0 C227.7 249.5 229.6 254.3 231.3 262.0 C233.1 269.7 236.0 277.2 236.5 286.0 C237.0 294.8 234.1 305.2 234.3 315.0 C234.6 324.8 236.4 335.8 238.0 345.0 C239.6 354.2 242.5 363.3 244.0 370.0 C245.5 376.7 247.0 380.5 247.0 385.0 C247.0 389.5 245.2 393.2 244.0 397.0 C242.8 400.8 240.4 405.1 240.0 408.0 C239.6 410.9 239.8 413.6 241.5 414.5 C243.2 415.4 247.1 415.2 250.0 413.5 C252.9 411.8 256.8 407.4 259.0 404.0 C261.2 400.6 262.9 396.7 263.3 393.0 C263.7 389.3 262.1 386.7 261.5 382.0 C260.9 377.3 260.0 375.3 260.0 365.0 C260.0 354.7 261.1 332.5 261.5 320.0 C261.9 307.5 262.0 303.3 262.3 290.0 C262.6 276.7 263.1 254.2 263.2 240.0 C263.3 225.8 270.2 210.8 263.2 205.0 C256.2 199.2 227.2 199.2 221.0 205.0Z"/><path d="M307.0 205.0 C313.3 210.8 304.1 230.5 302.5 240.0 C300.9 249.5 299.2 254.3 297.5 262.0 C295.8 269.7 292.5 277.2 292.0 286.0 C291.5 294.8 294.9 305.2 294.7 315.0 C294.5 324.8 292.5 335.8 291.0 345.0 C289.5 354.2 287.0 363.3 285.6 370.0 C284.2 376.7 282.6 380.5 282.5 385.0 C282.4 389.5 283.8 393.2 285.0 397.0 C286.2 400.8 289.0 405.1 289.5 408.0 C290.0 410.9 289.7 413.6 288.0 414.5 C286.3 415.4 282.3 415.2 279.5 413.5 C276.7 411.8 272.9 407.4 271.0 404.0 C269.1 400.6 268.5 396.7 268.3 393.0 C268.1 389.3 269.6 386.7 270.0 382.0 C270.4 377.3 271.1 375.3 270.6 365.0 C270.1 354.7 267.5 332.5 266.8 320.0 C266.1 307.5 266.8 303.3 266.5 290.0 C266.2 276.7 265.1 254.2 264.8 240.0 C264.5 225.8 257.8 210.8 264.8 205.0 C271.8 199.2 300.7 199.2 307.0 205.0Z"/></clipPath>
<g filter="url(#b2)">
<ellipse cx="264.4" cy="53" rx="20" ry="13" fill="#969696"/>
</g>
<g filter="url(#b1)">
<path d="M238.0 72.0 C236.7 69.4 229.4 73.3 226.0 74.5 C222.6 75.7 219.9 76.6 217.5 79.0 C215.1 81.4 213.2 84.7 211.5 89.0 C209.8 93.3 208.7 99.0 207.5 105.0 C206.3 111.0 205.5 117.8 204.5 125.0 C203.5 132.2 202.5 140.5 201.5 148.0 C200.5 155.5 199.2 162.2 198.5 170.0 C197.8 177.8 197.3 186.3 197.0 195.0 C196.7 203.7 196.3 215.0 196.5 222.0 C196.7 229.0 197.0 233.3 198.0 237.0 C199.0 240.7 200.7 243.2 202.5 244.0 C204.3 244.8 207.2 243.7 209.0 242.0 C210.8 240.3 212.2 237.3 213.0 234.0 C213.8 230.7 213.7 226.3 213.5 222.0 C213.3 217.7 212.2 212.5 212.0 208.0 C211.8 203.5 212.2 199.3 212.5 195.0 C212.8 190.7 213.2 187.0 214.0 182.0 C214.8 177.0 215.8 170.7 217.0 165.0 C218.2 159.3 220.1 153.8 221.5 148.0 C222.9 142.2 224.2 136.3 225.5 130.0 C226.8 123.7 227.6 116.7 229.0 110.0 C230.4 103.3 232.5 96.3 234.0 90.0 C235.5 83.7 239.3 74.6 238.0 72.0Z" fill="url(#lgA)"/>
<path d="M290.0 72.0 C291.3 69.4 298.6 73.3 302.0 74.5 C305.4 75.7 308.0 76.6 310.5 79.0 C313.0 81.4 315.0 84.7 317.0 89.0 C319.0 93.3 320.9 99.0 322.5 105.0 C324.1 111.0 325.2 117.8 326.5 125.0 C327.8 132.2 328.8 140.5 330.0 148.0 C331.2 155.5 332.9 162.7 334.0 170.0 C335.1 177.3 336.0 184.5 336.5 192.0 C337.0 199.5 337.2 208.3 337.0 215.0 C336.8 221.7 336.5 227.7 335.5 232.0 C334.5 236.3 332.8 239.7 331.0 241.0 C329.2 242.3 326.4 241.5 324.5 240.0 C322.6 238.5 320.4 235.3 319.5 232.0 C318.6 228.7 318.9 224.3 319.0 220.0 C319.1 215.7 320.0 210.2 320.0 206.0 C320.0 201.8 319.6 199.0 319.0 195.0 C318.4 191.0 317.6 187.0 316.5 182.0 C315.4 177.0 314.0 170.7 312.5 165.0 C311.0 159.3 308.9 153.8 307.5 148.0 C306.1 142.2 305.2 136.3 304.0 130.0 C302.8 123.7 301.7 116.7 300.0 110.0 C298.3 103.3 295.7 96.3 294.0 90.0 C292.3 83.7 288.7 74.6 290.0 72.0Z" fill="url(#lgA)"/>
<path d="M221.0 205.0 C214.8 210.8 224.3 230.5 226.0 240.0 C227.7 249.5 229.6 254.3 231.3 262.0 C233.1 269.7 236.0 277.2 236.5 286.0 C237.0 294.8 234.1 305.2 234.3 315.0 C234.6 324.8 236.4 335.8 238.0 345.0 C239.6 354.2 242.5 363.3 244.0 370.0 C245.5 376.7 247.0 380.5 247.0 385.0 C247.0 389.5 245.2 393.2 244.0 397.0 C242.8 400.8 240.4 405.1 240.0 408.0 C239.6 410.9 239.8 413.6 241.5 414.5 C243.2 415.4 247.1 415.2 250.0 413.5 C252.9 411.8 256.8 407.4 259.0 404.0 C261.2 400.6 262.9 396.7 263.3 393.0 C263.7 389.3 262.1 386.7 261.5 382.0 C260.9 377.3 260.0 375.3 260.0 365.0 C260.0 354.7 261.1 332.5 261.5 320.0 C261.9 307.5 262.0 303.3 262.3 290.0 C262.6 276.7 263.1 254.2 263.2 240.0 C263.3 225.8 270.2 210.8 263.2 205.0 C256.2 199.2 227.2 199.2 221.0 205.0Z" fill="url(#lgR1)"/>
<path d="M307.0 205.0 C313.3 210.8 304.1 230.5 302.5 240.0 C300.9 249.5 299.2 254.3 297.5 262.0 C295.8 269.7 292.5 277.2 292.0 286.0 C291.5 294.8 294.9 305.2 294.7 315.0 C294.5 324.8 292.5 335.8 291.0 345.0 C289.5 354.2 287.0 363.3 285.6 370.0 C284.2 376.7 282.6 380.5 282.5 385.0 C282.4 389.5 283.8 393.2 285.0 397.0 C286.2 400.8 289.0 405.1 289.5 408.0 C290.0 410.9 289.7 413.6 288.0 414.5 C286.3 415.4 282.3 415.2 279.5 413.5 C276.7 411.8 272.9 407.4 271.0 404.0 C269.1 400.6 268.5 396.7 268.3 393.0 C268.1 389.3 269.6 386.7 270.0 382.0 C270.4 377.3 271.1 375.3 270.6 365.0 C270.1 354.7 267.5 332.5 266.8 320.0 C266.1 307.5 266.8 303.3 266.5 290.0 C266.2 276.7 265.1 254.2 264.8 240.0 C264.5 225.8 257.8 210.8 264.8 205.0 C271.8 199.2 300.7 199.2 307.0 205.0Z" fill="url(#lgR1)"/>
<path d="M247.0 52.0 C241.2 53.5 246.8 58.5 246.5 61.0 C246.2 63.5 246.4 65.3 245.5 67.0 C244.6 68.7 243.1 69.9 241.0 71.0 C238.9 72.1 232.8 72.0 233.0 73.5 C233.2 75.0 236.8 78.6 242.0 80.0 C247.2 81.4 256.7 82.0 264.0 82.0 C271.3 82.0 280.8 81.4 286.0 80.0 C291.2 78.6 294.8 75.0 295.0 73.5 C295.2 72.0 289.0 72.1 287.0 71.0 C285.0 69.9 283.8 68.7 283.0 67.0 C282.2 65.3 282.2 63.5 282.0 61.0 C281.8 58.5 287.3 53.5 281.5 52.0 C275.7 50.5 252.8 50.5 247.0 52.0Z" fill="#8e8e8e"/>
</g>
<g filter="url(#b2)">
<ellipse cx="264.4" cy="41" rx="18.2" ry="22.6" fill="#5a5a5a"/>
<ellipse cx="264.4" cy="51" rx="10" ry="10" fill="#404040" opacity="0.7"/>
</g>
<g clip-path="url(#clipBodyR)">
<g filter="url(#b2)">
<ellipse cx="204" cy="238" rx="6" ry="7" fill="#fff" opacity="0.25"/>
<ellipse cx="328" cy="235" rx="6" ry="7" fill="#fff" opacity="0.25"/>
<path d="M213.0 96.0 C212.3 100.8 210.3 112.7 209.0 125.0 C207.7 137.3 205.8 156.2 205.0 170.0 C204.2 183.8 204.2 201.7 204.0 208.0" fill="none" stroke="#9c9c9c" stroke-width="6" stroke-linecap="round" stroke-linejoin="round" opacity="0.5"/>
<path d="M315.0 96.0 C315.8 100.8 318.2 112.7 320.0 125.0 C321.8 137.3 324.5 156.5 326.0 170.0 C327.5 183.5 328.5 200.0 329.0 206.0" fill="none" stroke="#9c9c9c" stroke-width="6" stroke-linecap="round" stroke-linejoin="round" opacity="0.5"/>
<path d="M228.5 104.0 C227.8 108.0 225.8 120.7 224.5 128.0 C223.2 135.3 222.2 142.3 221.0 148.0 C219.8 153.7 218.1 159.7 217.5 162.0" fill="none" stroke="#fff" stroke-width="3.5" stroke-linecap="round" stroke-linejoin="round" opacity="0.5"/>
<path d="M299.5 104.0 C300.2 108.0 302.7 120.7 304.0 128.0 C305.3 135.3 306.2 142.3 307.5 148.0 C308.8 153.7 310.8 159.7 311.5 162.0" fill="none" stroke="#fff" stroke-width="3.5" stroke-linecap="round" stroke-linejoin="round" opacity="0.5"/>
<path d="M243.0 215.0 C243.3 220.8 243.9 237.8 245.0 250.0 C246.1 262.2 248.9 276.3 249.5 288.0 C250.1 299.7 248.1 308.0 248.5 320.0 C248.9 332.0 251.1 349.2 252.0 360.0 C252.9 370.8 253.7 380.8 254.0 385.0" fill="none" stroke="url(#lgR2)" stroke-width="15" stroke-linecap="round" stroke-linejoin="round" opacity="0.95"/>
<path d="M242.0 215.0 C242.3 220.0 243.0 234.2 244.0 245.0 C245.0 255.8 247.3 274.2 248.0 280.0" fill="none" stroke="url(#lgR2)" stroke-width="24" stroke-linecap="round" stroke-linejoin="round" opacity="0.7"/>
<path d="M285.0 215.0 C284.7 220.8 283.9 237.8 283.0 250.0 C282.1 262.2 279.9 276.3 279.5 288.0 C279.1 299.7 280.8 308.0 280.5 320.0 C280.2 332.0 278.2 349.2 277.5 360.0 C276.8 370.8 276.2 380.8 276.0 385.0" fill="none" stroke="url(#lgR2)" stroke-width="15" stroke-linecap="round" stroke-linejoin="round" opacity="0.95"/>
<path d="M286.0 215.0 C285.7 220.0 284.8 234.2 284.0 245.0 C283.2 255.8 281.5 274.2 281.0 280.0" fill="none" stroke="url(#lgR2)" stroke-width="24" stroke-linecap="round" stroke-linejoin="round" opacity="0.7"/>
<path d="M256.0 392.0 C255.0 394.0 251.0 402.0 250.0 404.0" fill="none" stroke="#8a8a8a" stroke-width="8" stroke-linecap="round" stroke-linejoin="round" opacity="0.7"/>
<path d="M273.0 392.0 C274.0 394.0 278.0 402.0 279.0 404.0" fill="none" stroke="#8a8a8a" stroke-width="8" stroke-linecap="round" stroke-linejoin="round" opacity="0.7"/>
</g>
<g filter="url(#b4)">
<path d="M226.0 225.0 C220.3 230.8 228.0 245.0 230.0 255.0 C232.0 265.0 235.3 276.7 238.0 285.0 C240.7 293.3 242.7 301.2 246.0 305.0 C249.3 308.8 255.0 310.5 258.0 308.0 C261.0 305.5 262.0 290.0 264.0 290.0 C266.0 290.0 267.0 305.5 270.0 308.0 C273.0 310.5 278.7 308.8 282.0 305.0 C285.3 301.2 287.3 293.3 290.0 285.0 C292.7 276.7 296.0 265.0 298.0 255.0 C300.0 245.0 307.7 230.8 302.0 225.0 C296.3 219.2 276.7 220.0 264.0 220.0 C251.3 220.0 231.7 219.2 226.0 225.0Z" fill="#606060" opacity="0.3"/>
</g>
</g>
<g clip-path="url(#clipBodyR)"><g filter="url(#b3)">
<path d="M264.0 66.0 C256.0 66.0 246.3 66.7 240.0 68.0 C233.7 69.3 229.3 71.0 226.0 74.0 C222.7 77.0 220.7 81.0 220.0 86.0 C219.3 91.0 218.7 99.7 222.0 104.0 C225.3 108.3 233.0 110.7 240.0 112.0 C247.0 113.3 256.0 112.0 264.0 112.0 C272.0 112.0 281.0 113.3 288.0 112.0 C295.0 110.7 302.7 108.3 306.0 104.0 C309.3 99.7 308.7 91.0 308.0 86.0 C307.3 81.0 305.3 77.0 302.0 74.0 C298.7 71.0 294.3 69.3 288.0 68.0 C281.7 66.7 272.0 66.0 264.0 66.0Z" fill="#767676" opacity="0.85"/>
</g></g>
<g filter="url(#b07)">
<path d="M236.0 71.5 C230.6 74.8 232.8 83.6 231.5 90.0 C230.2 96.4 229.0 103.3 228.0 110.0 C227.0 116.7 226.2 124.0 225.5 130.0 C224.8 136.0 224.3 140.2 223.5 146.0 C222.7 151.8 221.1 156.8 220.5 165.0 C219.9 173.2 220.0 185.0 220.0 195.0 C220.0 205.0 219.8 217.0 220.5 225.0 C221.2 233.0 216.8 239.3 224.0 243.0 C231.2 246.7 250.7 247.0 264.0 247.0 C277.3 247.0 296.7 246.7 304.0 243.0 C311.3 239.3 307.3 233.0 308.0 225.0 C308.7 217.0 308.3 205.0 308.3 195.0 C308.3 185.0 308.4 173.2 308.0 165.0 C307.6 156.8 306.8 151.8 306.0 146.0 C305.2 140.2 304.2 136.0 303.0 130.0 C301.8 124.0 300.2 116.7 299.0 110.0 C297.8 103.3 297.2 96.4 296.0 90.0 C294.8 83.6 297.3 74.8 292.0 71.5 C286.7 68.2 273.3 70.0 264.0 70.0 C254.7 70.0 241.4 68.2 236.0 71.5Z" fill="url(#lgT)"/>
</g>
<g clip-path="url(#clipTorsoR)">
<g filter="url(#b4)">
<path d="M264.0 78.0 C258.0 78.0 250.3 77.7 246.0 80.0 C241.7 82.3 240.0 86.2 238.0 92.0 C236.0 97.8 235.2 106.2 234.0 115.0 C232.8 123.8 231.5 135.0 231.0 145.0 C230.5 155.0 230.3 165.0 231.0 175.0 C231.7 185.0 233.0 195.8 235.0 205.0 C237.0 214.2 239.8 222.5 243.0 230.0 C246.2 237.5 250.5 247.7 254.0 250.0 C257.5 252.3 260.7 244.0 264.0 244.0 C267.3 244.0 270.5 252.3 274.0 250.0 C277.5 247.7 281.8 237.5 285.0 230.0 C288.2 222.5 291.0 214.2 293.0 205.0 C295.0 195.8 296.3 185.0 297.0 175.0 C297.7 165.0 297.5 155.0 297.0 145.0 C296.5 135.0 295.2 123.8 294.0 115.0 C292.8 106.2 292.0 97.8 290.0 92.0 C288.0 86.2 286.3 82.3 282.0 80.0 C277.7 77.7 270.0 78.0 264.0 78.0Z" fill="#505050" opacity="0.85"/>
</g>
<g filter="url(#b3)">
<path d="M232.0 121.0 C226.2 124.5 229.6 132.7 229.0 140.0 C228.4 147.3 228.2 157.3 228.5 165.0 C228.8 172.7 228.9 179.7 231.0 186.0 C233.1 192.3 235.5 199.0 241.0 203.0 C246.5 207.0 256.3 210.0 264.0 210.0 C271.7 210.0 281.5 207.0 287.0 203.0 C292.5 199.0 294.9 192.3 297.0 186.0 C299.1 179.7 299.2 172.7 299.5 165.0 C299.8 157.3 299.6 147.3 299.0 140.0 C298.4 132.7 301.8 124.5 296.0 121.0 C290.2 117.5 274.7 119.0 264.0 119.0 C253.3 119.0 237.8 117.5 232.0 121.0Z" fill="#303030"/>
</g>
<g filter="url(#b2)">
<path d="M235.0 123.0 C229.5 126.2 231.7 134.2 231.0 140.0 C230.3 145.8 228.5 154.0 231.0 158.0 C233.5 162.0 240.5 162.8 246.0 164.0 C251.5 165.2 258.0 165.0 264.0 165.0 C270.0 165.0 276.5 165.2 282.0 164.0 C287.5 162.8 294.5 162.0 297.0 158.0 C299.5 154.0 297.7 145.8 297.0 140.0 C296.3 134.2 298.5 126.2 293.0 123.0 C287.5 119.8 273.7 121.0 264.0 121.0 C254.3 121.0 240.5 119.8 235.0 123.0Z" fill="#1e1e1e" opacity="0.75"/>
<path d="M238.0 172.0 C239.5 169.2 245.7 169.2 250.0 169.0 C254.3 168.8 259.3 171.0 264.0 171.0 C268.7 171.0 273.7 168.8 278.0 169.0 C282.3 169.2 288.5 169.2 290.0 172.0 C291.5 174.8 291.3 183.0 287.0 186.0 C282.7 189.0 271.7 190.0 264.0 190.0 C256.3 190.0 245.3 189.0 241.0 186.0 C236.7 183.0 236.5 174.8 238.0 172.0Z" fill="#202020" opacity="0.55"/>
<path d="M264.0 72.0 C264.0 79.7 264.0 110.3 264.0 118.0" fill="none" stroke="#383838" stroke-width="9" stroke-linecap="butt" stroke-linejoin="round" opacity="0.7"/>
</g>
<g filter="url(#b1)">
<path d="M250.0 80.0 C247.5 80.3 244.2 83.7 242.5 87.0 C240.8 90.3 240.6 95.8 240.0 100.0 C239.4 104.2 236.1 110.0 239.0 112.0 C241.9 114.0 254.4 116.5 257.5 112.0 C260.6 107.5 258.8 90.3 257.5 85.0 C256.2 79.7 252.5 79.7 250.0 80.0Z" fill="#989898" opacity="0.8"/>
<path d="M278.0 80.0 C280.6 80.3 283.8 83.7 285.5 87.0 C287.2 90.3 287.7 95.8 288.5 100.0 C289.3 104.2 293.6 110.0 290.5 112.0 C287.4 114.0 273.4 116.5 270.0 112.0 C266.6 107.5 268.7 90.3 270.0 85.0 C271.3 79.7 275.4 79.7 278.0 80.0Z" fill="#8c8c8c" opacity="0.75"/>
<path d="M235.5 117.0 C231.8 117.8 231.3 121.0 235.0 122.0 C238.7 123.0 253.8 123.8 257.5 123.0 C261.2 122.2 261.2 118.0 257.5 117.0 C253.8 116.0 239.2 116.2 235.5 117.0Z" fill="#7c7c7c" opacity="0.8"/>
<path d="M292.5 117.0 C296.3 117.8 296.8 121.0 293.0 122.0 C289.2 123.0 273.8 123.8 270.0 123.0 C266.2 122.2 266.2 118.0 270.0 117.0 C273.8 116.0 288.7 116.2 292.5 117.0Z" fill="#7c7c7c" opacity="0.8"/>
<path d="M237.0 112.5 C233.5 113.2 233.1 115.8 236.5 116.5 C239.9 117.2 254.0 117.7 257.5 117.0 C261.0 116.3 260.9 113.2 257.5 112.5 C254.1 111.8 240.5 111.8 237.0 112.5Z" fill="#484848" opacity="0.7"/>
<path d="M291.0 112.5 C294.6 113.2 295.0 115.8 291.5 116.5 C288.0 117.2 273.6 117.7 270.0 117.0 C266.4 116.3 266.5 113.2 270.0 112.5 C273.5 111.8 287.4 111.8 291.0 112.5Z" fill="#484848" opacity="0.7"/>
</g>
</g>
</g>
<g stroke="#080808" stroke-width="1.15" fill="none">
<rect x="47.500" y="11" width="291.500" height="412.700"/>
<line x1="193.500" y1="11" x2="193.500" y2="423.500"/>
<line x1="47.500" y1="63.500" x2="339" y2="63.500"/>
<path d="M119 11 L118.500 236 L120.500 423.500"/>
<path d="M87.300 63.500 L79.900 130 L74.500 164.500 L74.200 220 L86.300 423.500"/>
<path d="M147.600 63.500 L156.400 123.500 L160.700 144.600 L162.300 164.500 L163 220 L154.400 423.500"/>
<path d="M74.500 164.500 H162.300 L118.300 236 Z"/>
<path d="M113 63.500 V164.500 M123.700 63.500 V164.500 M116 63.500 V164.500" stroke-width="0.9"/>
<path d="M264 11 L263.700 236 L266.200 423.500"/>
<path d="M233 63.500 L224.300 143.800 L220.700 164.400 L220.200 194.200 L220.700 234.400 L231.900 423.500"/>
<path d="M293.200 63.500 L306.400 143.800 L307.800 164.400 L308 234.400 L300 423.500"/>
<path d="M220.700 164.400 H307.800 L263.700 236 Z"/>
<path d="M224.300 143.800 H306.400 M220.200 194.200 H308 M220.700 234.400 H308" stroke-width="0.8" stroke="#222"/>
<path d="M258.800 63.500 V164.400 M269.300 63.500 V164.400 M266 63.500 V164.400" stroke-width="0.9"/>
</g>
</g>

<g id="chart1" stroke-linejoin="round">
<text x="529" y="10.2" font-size="9.6" font-weight="bold" text-anchor="middle" textLength="136.5" lengthAdjust="spacingAndGlyphs">Densitometry Ref: Total (BMD)</text>
<text x="399" y="20.2" font-size="9.8" stroke="#000" stroke-width="0.3" textLength="56.5" lengthAdjust="spacingAndGlyphs">BMD (g/cm²)</text>
<text x="662" y="20.2" font-size="9.8" text-anchor="end" stroke="#000" stroke-width="0.3" textLength="49.5" lengthAdjust="spacingAndGlyphs">YA T-score</text>
<rect x="425" y="32" width="227" height="148" fill="#048c2c"/>
<!-- cyan band -->
<polygon points="425,51.6 525,51.6 652,80 652,122.5 525,94.3 425,94.3" fill="#00ffff"/>
<!-- bright green -->
<polygon points="425,95.5 525,95.5 621,116.600 425,116.600" fill="#00ff4c"/>
<!-- yellow -->
<polygon points="425,116.600 621,116.600 652,123.3 652,138 425,138" fill="#f6ff4c"/>
<rect x="425" y="138" width="227" height="21" fill="#ff7c28"/>
<rect x="425" y="158.600" width="227" height="21.400" fill="#ff0014"/>
<g stroke="#0a6a2a" stroke-width="0.8" fill="none">
<polyline points="425,51.6 525,51.6 652,80"/>
<polyline points="425,72.5 525,72.5 652,101.5"/>
<polyline points="525,95 652,123"/>
</g>
<polyline points="425,94.4 525,94.4" stroke="#0a6a2a" stroke-width="2.4" fill="none"/>
<line x1="425" y1="116.600" x2="621" y2="116.600" stroke="#7a9a30" stroke-width="0.6"/>
<line x1="425" y1="138" x2="652" y2="138" stroke="#704818" stroke-width="0.8"/>
<line x1="425" y1="158.600" x2="652" y2="158.600" stroke="#802010" stroke-width="0.8"/>
<line x1="425" y1="148.500" x2="640" y2="148.500" stroke="#ffd0a0" stroke-width="0.6" stroke-dasharray="1 2" opacity="0.7"/>
<line x1="640" y1="148.500" x2="652" y2="142" stroke="#ffd0a0" stroke-width="0.6" stroke-dasharray="1 2" opacity="0.7"/>
<!-- marker -->
<rect x="590.5" y="116.5" width="9" height="9" fill="#000"/>
<path d="M591.8 124 V117.8 H598" stroke="#fff8d0" stroke-width="1" fill="none"/>
<!-- axes -->
<g stroke="#333" stroke-width="0.8" fill="none">
<line x1="424.600" y1="32" x2="424.600" y2="181"/>
<line x1="652.400" y1="32" x2="652.400" y2="181"/>
</g>
<g stroke="#111" stroke-width="1" fill="none">
<line x1="424" y1="180.500" x2="653" y2="180.500"/>
<path d="M422 32.500h3M422 53.500h3M422 74.500h3M422 95.500h3M422 116.500h3M422 138.500h3M422 159.500h3M422 180.500h3"/>
<path d="M652 32.500h3.500M652 53.500h3.500M652 74.500h3.500M652 95.500h3.500M652 116.500h3.500M652 138.500h3.500M652 159.500h3.500M652 180.500h3.500"/>
<path d="M424.500 180v4M452.900 180v4M481.300 180v4M509.700 180v4M538.100 180v4M566.500 180v4M594.900 180v4M623.300 180v4M651.700 180v4"/>
<path d="M438.700 180v2.500M467.100 180v2.500M495.500 180v2.500M523.900 180v2.500M552.300 180v2.500M580.700 180v2.500M609.100 180v2.500M637.500 180v2.500"/>
</g>
<g font-size="10.3" text-anchor="end" stroke="#000" stroke-width="0.3">
<text transform="translate(420.0 36.5) scale(0.94 1)">1.402</text><text transform="translate(420.0 57.5) scale(0.94 1)">1.301</text><text transform="translate(420.0 78.5) scale(0.94 1)">1.200</text><text transform="translate(420.0 99.5) scale(0.94 1)">1.099</text><text transform="translate(420.0 120.5) scale(0.94 1)">0.999</text><text transform="translate(420.0 142.0) scale(0.94 1)">0.898</text><text transform="translate(420.0 163.0) scale(0.94 1)">0.797</text><text transform="translate(420.0 184.0) scale(0.94 1)">0.696</text>
</g>
<g font-size="10.3" text-anchor="start" stroke="#000" stroke-width="0.3">
<text transform="translate(656.6 36.5) scale(0.94 1)">2</text><text transform="translate(656.6 57.5) scale(0.94 1)">1</text><text transform="translate(656.6 78.5) scale(0.94 1)">0</text><text transform="translate(656.6 99.5) scale(0.94 1)">-1</text><text transform="translate(656.6 120.5) scale(0.94 1)">-2</text><text transform="translate(656.6 142.0) scale(0.94 1)">-3</text><text transform="translate(656.6 163.0) scale(0.94 1)">-4</text><text transform="translate(656.6 184.0) scale(0.94 1)">-5</text>
</g>
<g font-size="10.3" text-anchor="middle" stroke="#000" stroke-width="0.3">
<text transform="translate(425.0 195.6) scale(0.94 1)">20</text><text transform="translate(453.4 195.6) scale(0.94 1)">30</text><text transform="translate(481.8 195.6) scale(0.94 1)">40</text><text transform="translate(510.2 195.6) scale(0.94 1)">50</text><text transform="translate(538.6 195.6) scale(0.94 1)">60</text><text transform="translate(567.0 195.6) scale(0.94 1)">70</text><text transform="translate(595.4 195.6) scale(0.94 1)">80</text><text transform="translate(623.8 195.6) scale(0.94 1)">90</text><text transform="translate(652.0 195.6) scale(0.94 1)">100</text>
</g>
<text x="538" y="211.400" font-size="9.8" text-anchor="middle" stroke="#000" stroke-width="0.3" textLength="51" lengthAdjust="spacingAndGlyphs">Age (years)</text>
</g>

<g id="chart2">
<text x="534" y="229.500" font-size="8.8" font-weight="bold" text-anchor="middle" textLength="116.500" lengthAdjust="spacingAndGlyphs">Composition Reference: Total</text>
<text x="407.500" y="242.500" font-size="8.9" stroke="#000" stroke-width="0.2">Tissue (%Fat)</text>
<text x="663" y="238.500" font-size="8.8" text-anchor="end" stroke="#000" stroke-width="0.2">Centile</text>
<rect x="425" y="249" width="228.500" height="150" fill="#f0e0fa"/>
<polygon points="425.6,342.3 427.8,341.0 430.7,339.3 434.2,337.2 438.0,335.0 442.1,332.6 446.3,330.2 450.3,328.0 454.1,326.0 457.6,324.2 461.2,322.4 464.7,320.6 468.3,318.9 471.8,317.3 475.4,315.8 478.9,314.3 482.5,313.0 486.1,311.8 489.6,310.7 493.2,309.7 496.7,308.7 500.3,307.9 503.8,307.0 507.4,306.3 511.0,305.5 514.5,304.8 518.1,304.1 521.6,303.5 525.2,302.9 528.7,302.3 532.3,301.8 535.8,301.3 539.4,300.8 543.0,300.3 546.5,299.9 550.1,299.5 553.6,299.1 557.2,298.7 560.7,298.3 564.3,298.0 567.9,297.6 571.4,297.2 575.0,296.9 578.5,296.6 582.1,296.3 585.6,296.0 589.2,295.6 592.7,295.2 596.3,294.8 599.9,294.3 603.4,293.8 607.0,293.2 610.5,292.7 614.1,292.0 617.6,291.4 621.2,290.7 624.8,290.0 628.5,289.2 632.5,288.2 636.7,287.2 640.8,286.2 644.6,285.2 648.1,284.3 651.0,283.6 653.2,283.0 653.2,328.7 651.0,329.1 648.1,329.7 644.6,330.5 640.8,331.2 636.7,332.1 632.5,332.9 628.5,333.6 624.8,334.3 621.2,334.9 617.6,335.4 614.1,336.0 610.5,336.5 607.0,337.0 603.4,337.5 599.9,337.9 596.3,338.4 592.7,338.8 589.2,339.3 585.6,339.7 582.1,340.1 578.5,340.5 575.0,340.9 571.4,341.3 567.9,341.7 564.3,342.1 560.7,342.6 557.2,343.0 553.6,343.5 550.1,343.9 546.5,344.4 543.0,344.9 539.4,345.4 535.8,345.9 532.3,346.4 528.7,346.9 525.2,347.4 521.6,348.0 518.1,348.6 514.5,349.3 511.0,350.0 507.4,350.8 503.8,351.7 500.3,352.6 496.7,353.5 493.2,354.5 489.6,355.6 486.1,356.8 482.5,358.0 478.9,359.3 475.4,360.7 471.8,362.1 468.3,363.6 464.7,365.2 461.2,366.8 457.6,368.6 454.1,370.5 450.3,372.7 446.3,375.2 442.1,377.9 438.0,380.7 434.2,383.4 430.7,385.8 427.8,387.8 425.6,389.3" fill="#cc88ee"/>
<polygon points="425.6,354.0 427.8,352.6 430.7,350.7 434.2,348.5 438.0,346.1 442.1,343.5 446.3,341.0 450.3,338.6 454.1,336.6 457.6,334.8 461.2,333.1 464.7,331.5 468.3,330.0 471.8,328.5 475.4,327.1 478.9,325.8 482.5,324.5 486.1,323.3 489.6,322.2 493.2,321.1 496.7,320.1 500.3,319.1 503.8,318.2 507.4,317.4 511.0,316.6 514.5,315.9 518.1,315.2 521.6,314.6 525.2,314.0 528.7,313.5 532.3,313.0 535.8,312.5 539.4,312.0 543.0,311.5 546.5,311.1 550.1,310.6 553.6,310.2 557.2,309.8 560.7,309.5 564.3,309.1 567.9,308.7 571.4,308.3 575.0,308.0 578.5,307.7 582.1,307.4 585.6,307.1 589.2,306.8 592.7,306.4 596.3,306.0 599.9,305.5 603.4,305.0 607.0,304.5 610.5,303.9 614.1,303.3 617.6,302.7 621.2,302.0 624.8,301.3 628.5,300.5 632.5,299.5 636.7,298.4 640.8,297.4 644.6,296.3 648.1,295.4 651.0,294.6 653.2,294.0 653.2,318.0 651.0,318.4 648.1,318.9 644.6,319.5 640.8,320.2 636.7,321.0 632.5,321.7 628.5,322.4 624.8,323.0 621.2,323.6 617.6,324.2 614.1,324.7 610.5,325.3 607.0,325.8 603.4,326.3 599.9,326.8 596.3,327.3 592.7,327.8 589.2,328.2 585.6,328.6 582.1,329.0 578.5,329.3 575.0,329.7 571.4,330.1 567.9,330.5 564.3,330.9 560.7,331.3 557.2,331.7 553.6,332.1 550.1,332.5 546.5,332.9 543.0,333.3 539.4,333.8 535.8,334.3 532.3,334.8 528.7,335.3 525.2,335.8 521.6,336.4 518.1,337.0 514.5,337.7 511.0,338.4 507.4,339.2 503.8,340.0 500.3,340.8 496.7,341.7 493.2,342.6 489.6,343.6 486.1,344.7 482.5,345.9 478.9,347.1 475.4,348.4 471.8,349.8 468.3,351.2 464.7,352.7 461.2,354.3 457.6,356.1 454.1,358.0 450.3,360.2 446.3,362.9 442.1,365.7 438.0,368.7 434.2,371.5 430.7,374.1 427.8,376.2 425.6,377.8" fill="#a400e0"/>
<polyline points="425.6,342.3 427.8,341.0 430.7,339.3 434.2,337.2 438.0,335.0 442.1,332.6 446.3,330.2 450.3,328.0 454.1,326.0 457.6,324.2 461.2,322.4 464.7,320.6 468.3,318.9 471.8,317.3 475.4,315.8 478.9,314.3 482.5,313.0 486.1,311.8 489.6,310.7 493.2,309.7 496.7,308.7 500.3,307.9 503.8,307.0 507.4,306.3 511.0,305.5 514.5,304.8 518.1,304.1 521.6,303.5 525.2,302.9 528.7,302.3 532.3,301.8 535.8,301.3 539.4,300.8 543.0,300.3 546.5,299.9 550.1,299.5 553.6,299.1 557.2,298.7 560.7,298.3 564.3,298.0 567.9,297.6 571.4,297.2 575.0,296.9 578.5,296.6 582.1,296.3 585.6,296.0 589.2,295.6 592.7,295.2 596.3,294.8 599.9,294.3 603.4,293.8 607.0,293.2 610.5,292.7 614.1,292.0 617.6,291.4 621.2,290.7 624.8,290.0 628.5,289.2 632.5,288.2 636.7,287.2 640.8,286.2 644.6,285.2 648.1,284.3 651.0,283.6 653.2,283.0" fill="none" stroke="#4a3050" stroke-width="0.7"/>
<polyline points="425.6,354.0 427.8,352.6 430.7,350.7 434.2,348.5 438.0,346.1 442.1,343.5 446.3,341.0 450.3,338.6 454.1,336.6 457.6,334.8 461.2,333.1 464.7,331.5 468.3,330.0 471.8,328.5 475.4,327.1 478.9,325.8 482.5,324.5 486.1,323.3 489.6,322.2 493.2,321.1 496.7,320.1 500.3,319.1 503.8,318.2 507.4,317.4 511.0,316.6 514.5,315.9 518.1,315.2 521.6,314.6 525.2,314.0 528.7,313.5 532.3,313.0 535.8,312.5 539.4,312.0 543.0,311.5 546.5,311.1 550.1,310.6 553.6,310.2 557.2,309.8 560.7,309.5 564.3,309.1 567.9,308.7 571.4,308.3 575.0,308.0 578.5,307.7 582.1,307.4 585.6,307.1 589.2,306.8 592.7,306.4 596.3,306.0 599.9,305.5 603.4,305.0 607.0,304.5 610.5,303.9 614.1,303.3 617.6,302.7 621.2,302.0 624.8,301.3 628.5,300.5 632.5,299.5 636.7,298.4 640.8,297.4 644.6,296.3 648.1,295.4 651.0,294.6 653.2,294.0" fill="none" stroke="#4a3050" stroke-width="0.7"/>
<polyline points="425.6,377.8 427.8,376.2 430.7,374.1 434.2,371.5 438.0,368.7 442.1,365.7 446.3,362.9 450.3,360.2 454.1,358.0 457.6,356.1 461.2,354.3 464.7,352.7 468.3,351.2 471.8,349.8 475.4,348.4 478.9,347.1 482.5,345.9 486.1,344.7 489.6,343.6 493.2,342.6 496.7,341.7 500.3,340.8 503.8,340.0 507.4,339.2 511.0,338.4 514.5,337.7 518.1,337.0 521.6,336.4 525.2,335.8 528.7,335.3 532.3,334.8 535.8,334.3 539.4,333.8 543.0,333.3 546.5,332.9 550.1,332.5 553.6,332.1 557.2,331.7 560.7,331.3 564.3,330.9 567.9,330.5 571.4,330.1 575.0,329.7 578.5,329.3 582.1,329.0 585.6,328.6 589.2,328.2 592.7,327.8 596.3,327.3 599.9,326.8 603.4,326.3 607.0,325.8 610.5,325.3 614.1,324.7 617.6,324.2 621.2,323.6 624.8,323.0 628.5,322.4 632.5,321.7 636.7,321.0 640.8,320.2 644.6,319.5 648.1,318.9 651.0,318.4 653.2,318.0" fill="none" stroke="#4a3050" stroke-width="0.7"/>
<polyline points="425.6,389.3 427.8,387.8 430.7,385.8 434.2,383.4 438.0,380.7 442.1,377.9 446.3,375.2 450.3,372.7 454.1,370.5 457.6,368.6 461.2,366.8 464.7,365.2 468.3,363.6 471.8,362.1 475.4,360.7 478.9,359.3 482.5,358.0 486.1,356.8 489.6,355.6 493.2,354.5 496.7,353.5 500.3,352.6 503.8,351.7 507.4,350.8 511.0,350.0 514.5,349.3 518.1,348.6 521.6,348.0 525.2,347.4 528.7,346.9 532.3,346.4 535.8,345.9 539.4,345.4 543.0,344.9 546.5,344.4 550.1,343.9 553.6,343.5 557.2,343.0 560.7,342.6 564.3,342.1 567.9,341.7 571.4,341.3 575.0,340.9 578.5,340.5 582.1,340.1 585.6,339.7 589.2,339.3 592.7,338.8 596.3,338.4 599.9,337.9 603.4,337.5 607.0,337.0 610.5,336.5 614.1,336.0 617.6,335.4 621.2,334.9 624.8,334.3 628.5,333.6 632.5,332.9 636.7,332.1 640.8,331.2 644.6,330.5 648.1,329.7 651.0,329.1 653.2,328.7" fill="none" stroke="#4a3050" stroke-width="0.7"/>
<polyline points="425.6,365.5 427.8,364.0 430.7,361.9 434.2,359.5 438.0,356.7 442.1,353.9 446.3,351.2 450.3,348.7 454.1,346.5 457.6,344.6 461.2,342.9 464.7,341.3 468.3,339.8 471.8,338.4 475.4,337.1 478.9,335.9 482.5,334.7 486.1,333.6 489.6,332.6 493.2,331.7 496.7,330.8 500.3,330.0 503.8,329.3 507.4,328.5 511.0,327.8 514.5,327.1 518.1,326.4 521.6,325.8 525.2,325.2 528.7,324.6 532.3,324.0 535.8,323.5 539.4,323.0 543.0,322.5 546.5,322.1 550.1,321.7 553.6,321.4 557.2,321.0 560.7,320.7 564.3,320.3 567.9,319.9 571.4,319.5 575.0,319.0 578.5,318.5 582.1,318.0 585.6,317.5 589.2,317.0 592.7,316.5 596.3,316.0 599.9,315.5 603.4,314.9 607.0,314.4 610.5,313.9 614.1,313.3 617.6,312.7 621.2,312.1 624.8,311.5 628.5,310.8 632.5,310.1 636.7,309.3 640.8,308.5 644.6,307.7 648.1,307.0 651.0,306.4 653.2,306.0" fill="none" stroke="#300040" stroke-width="1.1"/>
<rect x="592.5" y="262.5" width="5" height="5" fill="#000"/><rect x="593.4" y="263.4" width="1.6" height="1.6" fill="#bbb"/>
<g stroke="#8a7c92" stroke-width="1" fill="none"><path d="M424.600 399V248.600H653V399"/></g><g stroke="#222" stroke-width="1" fill="none"><line x1="424" y1="399" x2="653.500" y2="399"/><path d="M425.6 398.500v3.500M454.1 398.500v3.500M482.5 398.500v3.500M511.0 398.500v3.500M539.4 398.500v3.500M567.9 398.500v3.500M596.3 398.500v3.500M624.8 398.500v3.500M653.2 398.500v3.500M439.8 398.500v2.500M468.2 398.500v2.500M496.7 398.500v2.500M525.1 398.500v2.500M553.6 398.500v2.500M582.0 398.500v2.500M610.5 398.500v2.500M639.0 398.500v2.500"/><path d="M422 267.500h3M422 305.500h3M422 343.500h3M422 381.500h3M423 286.500h2M423 324.500h2M423 362.500h2"/></g>
<g font-size="8.7" text-anchor="end" stroke="#000" stroke-width="0.2"><text x="421" y="271.500">40%</text><text x="421" y="309.500">30%</text><text x="421" y="347.500">20%</text><text x="421" y="385">10%</text></g>
<g font-size="9.4" stroke="#000" stroke-width="0.2"><text x="657" y="287.500">90</text><text x="657" y="298">75</text><text x="657" y="310.500">50</text><text x="657" y="322.500">25</text><text x="657" y="333">10</text></g>
<g font-size="10" text-anchor="middle" stroke="#000" stroke-width="0.3"><text transform="translate(425.8 413.700) scale(0.95 1)">20</text><text transform="translate(454.2 413.700) scale(0.95 1)">30</text><text transform="translate(482.7 413.700) scale(0.95 1)">40</text><text transform="translate(511.1 413.700) scale(0.95 1)">50</text><text transform="translate(539.6 413.700) scale(0.95 1)">60</text><text transform="translate(568.0 413.700) scale(0.95 1)">70</text><text transform="translate(596.5 413.700) scale(0.95 1)">80</text><text transform="translate(625.0 413.700) scale(0.95 1)">90</text><text transform="translate(653.4 413.700) scale(0.95 1)">100</text></g>
<text x="538" y="428.500" font-size="9" text-anchor="middle" stroke="#000" stroke-width="0.2">Age (years)</text>
</g>

<g id="table">
<rect x="3.2" y="438" width="701.8" height="74.600" fill="#fbfed6" stroke="#000" stroke-width="3.4"/>
<rect x="19.0" y="494.400" width="72.0" height="1.600" fill="#2a2a2a"/>
<rect x="95.0" y="494.400" width="76.0" height="1.600" fill="#2a2a2a"/>
<rect x="175.0" y="494.400" width="88.0" height="1.600" fill="#2a2a2a"/>
<rect x="268.0" y="494.400" width="84.0" height="1.600" fill="#2a2a2a"/>
<rect x="354.0" y="494.400" width="56.5" height="1.600" fill="#2a2a2a"/>
<rect x="412.5" y="494.400" width="56.5" height="1.600" fill="#2a2a2a"/>
<rect x="471.0" y="494.400" width="57.0" height="1.600" fill="#2a2a2a"/>
<rect x="529.5" y="494.400" width="56.0" height="1.600" fill="#2a2a2a"/>
<rect x="587.5" y="494.400" width="56.5" height="1.600" fill="#2a2a2a"/>
<rect x="646.0" y="494.400" width="57.0" height="1.600" fill="#2a2a2a"/>
<text x="185.2" y="451.5" font-size="10.2" text-anchor="middle" fill="#1a1a1a" font-weight="bold" textLength="162.5" lengthAdjust="spacingAndGlyphs">Densitometry (Enhanced Analysis)</text>
<text x="483.2" y="451.5" font-size="10.2" text-anchor="middle" fill="#1a1a1a" font-weight="bold" textLength="161.5" lengthAdjust="spacingAndGlyphs">Composition (Enhanced Analysis)</text>
<text x="20" y="491.5" font-size="10.2" text-anchor="start" fill="#1a1a1a" font-weight="bold">Region</text>
<text x="133" y="477.7" font-size="10.2" text-anchor="middle" fill="#1a1a1a" font-weight="bold">BMD</text>
<text x="133" y="489" font-size="8.1" text-anchor="middle" fill="#1a1a1a" font-weight="bold">(g/cm²)</text>
<text x="146.5" y="466.8" font-size="7.8" text-anchor="middle" fill="#222" >1</text>
<text x="218.6" y="477.5" font-size="10.2" text-anchor="middle" fill="#1a1a1a" font-weight="bold">Young-Adult</text>
<text x="219.5" y="489.3" font-size="8.1" text-anchor="middle" fill="#1a1a1a" font-weight="bold">T-score</text>
<text x="246" y="466" font-size="7.8" text-anchor="middle" fill="#222" >2</text>
<text x="311.7" y="477.5" font-size="10.2" text-anchor="middle" fill="#1a1a1a" font-weight="bold">Age-Matched</text>
<text x="311.7" y="489.3" font-size="8.1" text-anchor="middle" fill="#1a1a1a" font-weight="bold">Z-score</text>
<text x="338.3" y="466" font-size="7.8" text-anchor="middle" fill="#222" >3</text>
<text x="382.5" y="477.5" font-size="10.2" text-anchor="middle" fill="#1a1a1a" font-weight="bold">Tissue</text>
<text x="382" y="491" font-size="10.2" text-anchor="middle" fill="#1a1a1a" font-weight="bold">(%Fat)</text>
<text x="402" y="466.3" font-size="7.8" text-anchor="middle" fill="#222" >1</text>
<text x="440.6" y="477.5" font-size="10.2" text-anchor="middle" fill="#1a1a1a" font-weight="bold">Centile</text>
<text x="464" y="466" font-size="7.8" text-anchor="middle" fill="#222" >2,3</text>
<text x="499" y="477.5" font-size="10.2" text-anchor="middle" fill="#1a1a1a" font-weight="bold">Total Mass</text>
<text x="499" y="491" font-size="10.2" text-anchor="middle" fill="#1a1a1a" font-weight="bold">(kg)</text>
<text x="557.4" y="477.5" font-size="10.2" text-anchor="middle" fill="#1a1a1a" font-weight="bold">Fat</text>
<text x="557.4" y="491" font-size="10.2" text-anchor="middle" fill="#1a1a1a" font-weight="bold">(g)</text>
<text x="573" y="466.3" font-size="7.8" text-anchor="middle" fill="#222" >1</text>
<text x="615.8" y="477.5" font-size="10.2" text-anchor="middle" fill="#1a1a1a" font-weight="bold">Lean</text>
<text x="615.8" y="491" font-size="10.2" text-anchor="middle" fill="#1a1a1a" font-weight="bold">(g)</text>
<text x="632" y="466.3" font-size="7.8" text-anchor="middle" fill="#222" >1</text>
<text x="674" y="477.5" font-size="10.2" text-anchor="middle" fill="#1a1a1a" font-weight="bold">BMC</text>
<text x="674" y="491" font-size="10.2" text-anchor="middle" fill="#1a1a1a" font-weight="bold">(g)</text>
<text x="21.5" y="508.7" font-size="10" text-anchor="start" fill="#1c1c1c" >Total</text>
<text x="132.7" y="508.7" font-size="10" text-anchor="middle" fill="#1c1c1c" >0.973</text>
<text x="221" y="508.7" font-size="10" text-anchor="middle" fill="#1c1c1c" >-2.3</text>
<text x="312.7" y="508.7" font-size="10" text-anchor="middle" fill="#1c1c1c" >-1.6</text>
<text x="384.3" y="508.7" font-size="10" text-anchor="middle" fill="#1c1c1c" >40.7</text>
<text x="439.6" y="508.7" font-size="10" text-anchor="middle" fill="#1c1c1c" >100</text>
<text x="499.7" y="508.7" font-size="10" text-anchor="middle" fill="#1c1c1c" >80.4</text>
<text x="557.4" y="508.7" font-size="10" text-anchor="middle" fill="#1c1c1c" >31,728</text>
<text x="616.6" y="508.7" font-size="10" text-anchor="middle" fill="#1c1c1c" >46,230</text>
<text x="673" y="508.7" font-size="10" text-anchor="middle" fill="#1c1c1c" >2,403</text>
<text x="33" y="543.5" font-size="18" text-anchor="start" fill="#000" font-weight="bold" textLength="252" lengthAdjust="spacingAndGlyphs">RMR (Resting Metabolic Rate)</text>
<text x="38.5" y="560.3" font-size="12" text-anchor="start" fill="#000" stroke="#000" stroke-width="0.25" textLength="75.5" lengthAdjust="spacingAndGlyphs">1,494 cal/day</text>
<text x="248.5" y="560.3" font-size="12" text-anchor="start" fill="#000" stroke="#000" stroke-width="0.25" textLength="89" lengthAdjust="spacingAndGlyphs">Harris-Benedict</text>
<text x="374" y="543.5" font-size="18" text-anchor="start" fill="#000" font-weight="bold" textLength="313.5" lengthAdjust="spacingAndGlyphs">RSMI (Relative Skeletal Muscle Index)</text>
<text x="379.5" y="560.3" font-size="12" text-anchor="start" fill="#000" stroke="#000" stroke-width="0.25" textLength="64.5" lengthAdjust="spacingAndGlyphs">7.06 kg/m²</text>
<text x="590" y="560.3" font-size="12" text-anchor="start" fill="#000" stroke="#000" stroke-width="0.25" textLength="74" lengthAdjust="spacingAndGlyphs">Baumgartner</text>
</g>

</svg>
</body></html>
